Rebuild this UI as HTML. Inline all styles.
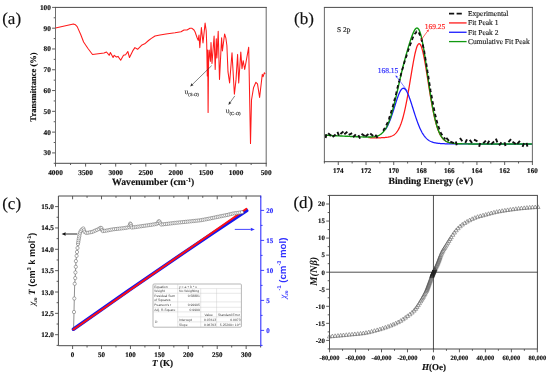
<!DOCTYPE html>
<html><head><meta charset="utf-8"><style>
html,body{margin:0;padding:0;background:#fff;}
body{width:550px;height:376px;overflow:hidden;font-family:"Liberation Serif", serif;}
svg{display:block;filter:blur(0.3px);}
text{text-rendering:geometricPrecision;}
</style></head><body>
<svg width="550" height="376" viewBox="0 0 550 376">
<rect width="550" height="376" fill="#fff"/>
<text x="2.20" y="23.80" font-size="17" text-anchor="start" font-weight="normal" font-style="normal" fill="#111" font-family="'Liberation Serif', serif" stroke="#111" stroke-width="0.16" >(a)</text>
<line x1="53.70" y1="163.30" x2="55.50" y2="163.30" stroke="#4a4a4a" stroke-width="0.9"/>
<line x1="52.10" y1="152.91" x2="55.50" y2="152.91" stroke="#4a4a4a" stroke-width="0.9"/>
<text x="50.90" y="155.41" font-size="7.3" text-anchor="end" font-weight="bold" font-style="normal" fill="#111" font-family="'Liberation Serif', serif" stroke="#111" stroke-width="0.16" >30</text>
<line x1="53.70" y1="142.51" x2="55.50" y2="142.51" stroke="#4a4a4a" stroke-width="0.9"/>
<line x1="52.10" y1="132.12" x2="55.50" y2="132.12" stroke="#4a4a4a" stroke-width="0.9"/>
<text x="50.90" y="134.62" font-size="7.3" text-anchor="end" font-weight="bold" font-style="normal" fill="#111" font-family="'Liberation Serif', serif" stroke="#111" stroke-width="0.16" >40</text>
<line x1="53.70" y1="121.73" x2="55.50" y2="121.73" stroke="#4a4a4a" stroke-width="0.9"/>
<line x1="52.10" y1="111.33" x2="55.50" y2="111.33" stroke="#4a4a4a" stroke-width="0.9"/>
<text x="50.90" y="113.83" font-size="7.3" text-anchor="end" font-weight="bold" font-style="normal" fill="#111" font-family="'Liberation Serif', serif" stroke="#111" stroke-width="0.16" >50</text>
<line x1="53.70" y1="100.94" x2="55.50" y2="100.94" stroke="#4a4a4a" stroke-width="0.9"/>
<line x1="52.10" y1="90.55" x2="55.50" y2="90.55" stroke="#4a4a4a" stroke-width="0.9"/>
<text x="50.90" y="93.05" font-size="7.3" text-anchor="end" font-weight="bold" font-style="normal" fill="#111" font-family="'Liberation Serif', serif" stroke="#111" stroke-width="0.16" >60</text>
<line x1="53.70" y1="80.15" x2="55.50" y2="80.15" stroke="#4a4a4a" stroke-width="0.9"/>
<line x1="52.10" y1="69.76" x2="55.50" y2="69.76" stroke="#4a4a4a" stroke-width="0.9"/>
<text x="50.90" y="72.26" font-size="7.3" text-anchor="end" font-weight="bold" font-style="normal" fill="#111" font-family="'Liberation Serif', serif" stroke="#111" stroke-width="0.16" >70</text>
<line x1="53.70" y1="59.37" x2="55.50" y2="59.37" stroke="#4a4a4a" stroke-width="0.9"/>
<line x1="52.10" y1="48.97" x2="55.50" y2="48.97" stroke="#4a4a4a" stroke-width="0.9"/>
<text x="50.90" y="51.47" font-size="7.3" text-anchor="end" font-weight="bold" font-style="normal" fill="#111" font-family="'Liberation Serif', serif" stroke="#111" stroke-width="0.16" >80</text>
<line x1="53.70" y1="38.58" x2="55.50" y2="38.58" stroke="#4a4a4a" stroke-width="0.9"/>
<line x1="52.10" y1="28.19" x2="55.50" y2="28.19" stroke="#4a4a4a" stroke-width="0.9"/>
<text x="50.90" y="30.69" font-size="7.3" text-anchor="end" font-weight="bold" font-style="normal" fill="#111" font-family="'Liberation Serif', serif" stroke="#111" stroke-width="0.16" >90</text>
<line x1="53.70" y1="17.79" x2="55.50" y2="17.79" stroke="#4a4a4a" stroke-width="0.9"/>
<line x1="52.10" y1="7.40" x2="55.50" y2="7.40" stroke="#4a4a4a" stroke-width="0.9"/>
<text x="50.90" y="9.90" font-size="7.3" text-anchor="end" font-weight="bold" font-style="normal" fill="#111" font-family="'Liberation Serif', serif" stroke="#111" stroke-width="0.16" >100</text>
<line x1="266.20" y1="163.30" x2="266.20" y2="166.60" stroke="#4a4a4a" stroke-width="0.9"/>
<text x="266.20" y="175.00" font-size="7.3" text-anchor="middle" font-weight="bold" font-style="normal" fill="#111" font-family="'Liberation Serif', serif" stroke="#111" stroke-width="0.16" >500</text>
<line x1="251.15" y1="163.30" x2="251.15" y2="165.00" stroke="#4a4a4a" stroke-width="0.9"/>
<line x1="236.10" y1="163.30" x2="236.10" y2="166.60" stroke="#4a4a4a" stroke-width="0.9"/>
<text x="236.10" y="175.00" font-size="7.3" text-anchor="middle" font-weight="bold" font-style="normal" fill="#111" font-family="'Liberation Serif', serif" stroke="#111" stroke-width="0.16" >1000</text>
<line x1="221.05" y1="163.30" x2="221.05" y2="165.00" stroke="#4a4a4a" stroke-width="0.9"/>
<line x1="206.00" y1="163.30" x2="206.00" y2="166.60" stroke="#4a4a4a" stroke-width="0.9"/>
<text x="206.00" y="175.00" font-size="7.3" text-anchor="middle" font-weight="bold" font-style="normal" fill="#111" font-family="'Liberation Serif', serif" stroke="#111" stroke-width="0.16" >1500</text>
<line x1="190.95" y1="163.30" x2="190.95" y2="165.00" stroke="#4a4a4a" stroke-width="0.9"/>
<line x1="175.90" y1="163.30" x2="175.90" y2="166.60" stroke="#4a4a4a" stroke-width="0.9"/>
<text x="175.90" y="175.00" font-size="7.3" text-anchor="middle" font-weight="bold" font-style="normal" fill="#111" font-family="'Liberation Serif', serif" stroke="#111" stroke-width="0.16" >2000</text>
<line x1="160.85" y1="163.30" x2="160.85" y2="165.00" stroke="#4a4a4a" stroke-width="0.9"/>
<line x1="145.80" y1="163.30" x2="145.80" y2="166.60" stroke="#4a4a4a" stroke-width="0.9"/>
<text x="145.80" y="175.00" font-size="7.3" text-anchor="middle" font-weight="bold" font-style="normal" fill="#111" font-family="'Liberation Serif', serif" stroke="#111" stroke-width="0.16" >2500</text>
<line x1="130.75" y1="163.30" x2="130.75" y2="165.00" stroke="#4a4a4a" stroke-width="0.9"/>
<line x1="115.70" y1="163.30" x2="115.70" y2="166.60" stroke="#4a4a4a" stroke-width="0.9"/>
<text x="115.70" y="175.00" font-size="7.3" text-anchor="middle" font-weight="bold" font-style="normal" fill="#111" font-family="'Liberation Serif', serif" stroke="#111" stroke-width="0.16" >3000</text>
<line x1="100.65" y1="163.30" x2="100.65" y2="165.00" stroke="#4a4a4a" stroke-width="0.9"/>
<line x1="85.60" y1="163.30" x2="85.60" y2="166.60" stroke="#4a4a4a" stroke-width="0.9"/>
<text x="85.60" y="175.00" font-size="7.3" text-anchor="middle" font-weight="bold" font-style="normal" fill="#111" font-family="'Liberation Serif', serif" stroke="#111" stroke-width="0.16" >3500</text>
<line x1="70.55" y1="163.30" x2="70.55" y2="165.00" stroke="#4a4a4a" stroke-width="0.9"/>
<line x1="55.50" y1="163.30" x2="55.50" y2="166.60" stroke="#4a4a4a" stroke-width="0.9"/>
<text x="55.50" y="175.00" font-size="7.3" text-anchor="middle" font-weight="bold" font-style="normal" fill="#111" font-family="'Liberation Serif', serif" stroke="#111" stroke-width="0.16" >4000</text>
<line x1="55.50" y1="7.40" x2="55.50" y2="163.80" stroke="#6e6e6e" stroke-width="1.05"/>
<line x1="266.20" y1="6.90" x2="266.20" y2="163.80" stroke="#6e6e6e" stroke-width="1.05"/>
<line x1="55.00" y1="7.40" x2="266.70" y2="7.40" stroke="#4a4a4a" stroke-width="1"/>
<line x1="55.00" y1="163.30" x2="266.70" y2="163.30" stroke="#4a4a4a" stroke-width="1"/>
<text x="153.20" y="185.40" font-size="9.7" text-anchor="middle" font-weight="bold" font-style="normal" fill="#111" font-family="'Liberation Serif', serif" stroke="#111" stroke-width="0.16" >Wavenumber (cm<tspan dy="-3.8" font-size="6.2">-1</tspan><tspan dy="3.8">)</tspan></text>
<text x="0.00" y="0.00" font-size="8.55" text-anchor="middle" font-weight="bold" font-style="normal" fill="#111" font-family="'Liberation Serif', serif" stroke="#111" stroke-width="0.16" transform="translate(35.6,87) rotate(-90)">Transmittance (%)</text>
<path d="M55.50,28.00 L73.40,24.00 L75.50,24.80 L77.20,26.60 L80.60,34.20 L83.60,42.00 L87.80,48.20 L92.50,54.50 L104.00,53.00 L106.50,52.00 L109.30,55.30 L110.40,52.50 L113.10,57.50 L114.20,55.30 L116.40,57.00 L118.00,56.40 L120.70,60.20 L123.50,55.30 L125.60,54.70 L127.80,51.50 L129.50,57.50 L132.70,50.90 L134.90,47.60 L137.60,49.30 L142.00,44.90 L144.70,43.80 L148.50,40.50 L151.00,38.60 L155.00,36.00 L160.00,35.00 L166.00,34.00 L175.00,32.80 L181.00,31.80 L184.00,30.00 L187.00,30.00 L190.00,28.30 L192.00,28.30 L194.00,30.00 L195.00,31.80 L197.10,37.70 L198.20,40.30 L199.00,35.00 L199.80,47.80 L201.40,27.60 L203.00,43.00 L205.10,23.10 L206.20,30.80 L206.70,43.50 L207.30,76.00 L207.70,50.00 L208.10,112.50 L208.60,60.00 L209.20,50.00 L210.40,61.40 L211.00,42.50 L212.00,63.50 L214.10,36.10 L215.20,69.40 L216.30,38.70 L216.90,58.00 L218.20,31.30 L219.50,79.50 L221.60,37.70 L222.40,51.00 L224.60,34.00 L225.90,38.20 L226.90,45.70 L228.00,71.90 L229.60,83.00 L232.00,52.80 L234.40,94.20 L236.00,79.90 L237.60,54.40 L238.70,83.00 L240.80,52.00 L242.00,68.70 L243.20,60.70 L244.70,69.50 L248.70,47.20 L250.50,143.50 L251.50,100.00 L253.50,87.80 L255.90,82.30 L257.50,83.90 L259.60,97.40 L262.30,74.30 L263.10,76.70 L264.40,72.70 L265.20,74.00" fill="none" stroke="#ff1a1a" stroke-width="1.05" stroke-linejoin="round" />
<line x1="211.70" y1="65.60" x2="192.49" y2="84.36" stroke="#333" stroke-width="0.6"/>
<path d="M190.20,86.60 L191.51,83.36 L193.47,85.37 Z" fill="#333"/>
<text x="184.60" y="93.60" font-size="7.6" text-anchor="start" font-weight="normal" font-style="normal" fill="#333" font-family="'Liberation Serif', serif" stroke="#333" stroke-width="0.16" >υ<tspan dy="2.6" font-size="4.6">(S-O)</tspan></text>
<line x1="234.80" y1="95.90" x2="230.25" y2="102.29" stroke="#333" stroke-width="0.6"/>
<path d="M228.40,104.90 L229.11,101.48 L231.40,103.10 Z" fill="#333"/>
<text x="225.80" y="112.70" font-size="7.6" text-anchor="start" font-weight="normal" font-style="normal" fill="#333" font-family="'Liberation Serif', serif" stroke="#333" stroke-width="0.16" >υ<tspan dy="2.6" font-size="4.6">(C-O)</tspan></text>
<text x="294.00" y="24.30" font-size="17" text-anchor="start" font-weight="normal" font-style="normal" fill="#111" font-family="'Liberation Serif', serif" stroke="#111" stroke-width="0.16" >(b)</text>
<line x1="532.40" y1="161.70" x2="532.40" y2="165.00" stroke="#4a4a4a" stroke-width="0.9"/>
<text x="532.40" y="173.00" font-size="7.1" text-anchor="middle" font-weight="bold" font-style="normal" fill="#111" font-family="'Liberation Serif', serif" stroke="#111" stroke-width="0.16" >160</text>
<line x1="518.53" y1="161.70" x2="518.53" y2="163.50" stroke="#4a4a4a" stroke-width="0.9"/>
<line x1="504.67" y1="161.70" x2="504.67" y2="165.00" stroke="#4a4a4a" stroke-width="0.9"/>
<text x="504.67" y="173.00" font-size="7.1" text-anchor="middle" font-weight="bold" font-style="normal" fill="#111" font-family="'Liberation Serif', serif" stroke="#111" stroke-width="0.16" >162</text>
<line x1="490.80" y1="161.70" x2="490.80" y2="163.50" stroke="#4a4a4a" stroke-width="0.9"/>
<line x1="476.93" y1="161.70" x2="476.93" y2="165.00" stroke="#4a4a4a" stroke-width="0.9"/>
<text x="476.93" y="173.00" font-size="7.1" text-anchor="middle" font-weight="bold" font-style="normal" fill="#111" font-family="'Liberation Serif', serif" stroke="#111" stroke-width="0.16" >164</text>
<line x1="463.07" y1="161.70" x2="463.07" y2="163.50" stroke="#4a4a4a" stroke-width="0.9"/>
<line x1="449.20" y1="161.70" x2="449.20" y2="165.00" stroke="#4a4a4a" stroke-width="0.9"/>
<text x="449.20" y="173.00" font-size="7.1" text-anchor="middle" font-weight="bold" font-style="normal" fill="#111" font-family="'Liberation Serif', serif" stroke="#111" stroke-width="0.16" >166</text>
<line x1="435.33" y1="161.70" x2="435.33" y2="163.50" stroke="#4a4a4a" stroke-width="0.9"/>
<line x1="421.47" y1="161.70" x2="421.47" y2="165.00" stroke="#4a4a4a" stroke-width="0.9"/>
<text x="421.47" y="173.00" font-size="7.1" text-anchor="middle" font-weight="bold" font-style="normal" fill="#111" font-family="'Liberation Serif', serif" stroke="#111" stroke-width="0.16" >168</text>
<line x1="407.60" y1="161.70" x2="407.60" y2="163.50" stroke="#4a4a4a" stroke-width="0.9"/>
<line x1="393.73" y1="161.70" x2="393.73" y2="165.00" stroke="#4a4a4a" stroke-width="0.9"/>
<text x="393.73" y="173.00" font-size="7.1" text-anchor="middle" font-weight="bold" font-style="normal" fill="#111" font-family="'Liberation Serif', serif" stroke="#111" stroke-width="0.16" >170</text>
<line x1="379.87" y1="161.70" x2="379.87" y2="163.50" stroke="#4a4a4a" stroke-width="0.9"/>
<line x1="366.00" y1="161.70" x2="366.00" y2="165.00" stroke="#4a4a4a" stroke-width="0.9"/>
<text x="366.00" y="173.00" font-size="7.1" text-anchor="middle" font-weight="bold" font-style="normal" fill="#111" font-family="'Liberation Serif', serif" stroke="#111" stroke-width="0.16" >172</text>
<line x1="352.13" y1="161.70" x2="352.13" y2="163.50" stroke="#4a4a4a" stroke-width="0.9"/>
<line x1="338.27" y1="161.70" x2="338.27" y2="165.00" stroke="#4a4a4a" stroke-width="0.9"/>
<text x="338.27" y="173.00" font-size="7.1" text-anchor="middle" font-weight="bold" font-style="normal" fill="#111" font-family="'Liberation Serif', serif" stroke="#111" stroke-width="0.16" >174</text>
<line x1="324.40" y1="161.70" x2="324.40" y2="163.50" stroke="#4a4a4a" stroke-width="0.9"/>
<text x="430.90" y="183.60" font-size="9.6" text-anchor="middle" font-weight="bold" font-style="normal" fill="#111" font-family="'Liberation Serif', serif" stroke="#111" stroke-width="0.16" >Binding Energy (eV)</text>
<text x="337.00" y="31.50" font-size="7.4" text-anchor="start" font-weight="normal" font-style="normal" fill="#222" font-family="'Liberation Serif', serif" stroke="#222" stroke-width="0.16" >S 2p</text>
<path d="M368.40,137.69 L368.90,137.71 L369.40,137.73 L369.90,137.75 L370.40,137.77 L370.90,137.79 L371.40,137.81 L371.90,137.83 L372.40,137.85 L372.90,137.87 L373.40,137.89 L373.90,137.91 L374.40,137.91 L374.90,137.90 L375.40,137.90 L375.90,137.89 L376.40,137.88 L376.90,137.87 L377.40,137.86 L377.90,137.85 L378.40,137.84 L378.90,137.82 L379.40,137.81 L379.90,137.80 L380.40,137.78 L380.90,137.76 L381.40,137.74 L381.90,137.72 L382.40,137.70 L382.90,137.67 L383.40,137.64 L383.90,137.61 L384.40,137.58 L384.90,137.54 L385.40,137.49 L385.90,137.44 L386.40,137.39 L386.90,137.32 L387.40,137.25 L387.90,137.18 L388.40,137.09 L388.90,136.98 L389.40,136.87 L389.90,136.74 L390.40,136.60 L390.90,136.43 L391.40,136.25 L391.90,136.04 L392.40,135.80 L392.90,135.53 L393.40,135.24 L393.90,134.90 L394.40,134.53 L394.90,134.11 L395.40,133.65 L395.90,133.13 L396.40,132.55 L396.90,131.92 L397.40,131.21 L397.90,130.44 L398.40,129.59 L398.90,128.66 L399.40,127.64 L399.90,126.53 L400.40,125.33 L400.90,124.03 L401.40,122.62 L401.90,121.11 L402.40,119.49 L402.90,117.75 L403.40,115.90 L403.90,113.94 L404.40,111.86 L404.90,109.66 L405.40,107.35 L405.90,104.93 L406.40,102.40 L406.90,99.78 L407.40,97.07 L407.90,94.27 L408.40,91.40 L408.90,88.47 L409.40,85.49 L409.90,82.47 L410.40,79.43 L410.90,76.39 L411.40,73.35 L411.90,70.35 L412.40,67.40 L412.90,64.53 L413.40,61.74 L413.90,59.08 L414.40,56.55 L414.90,54.19 L415.40,52.01 L415.90,50.04 L416.40,48.31 L416.90,46.82 L417.40,45.61 L417.90,44.68 L418.40,44.05 L418.90,43.73 L419.40,43.72 L419.90,44.04 L420.40,44.67 L420.90,45.60 L421.40,46.83 L421.90,48.33 L422.40,50.10 L422.90,52.10 L423.40,54.33 L423.90,56.76 L424.40,59.36 L424.90,62.11 L425.40,64.98 L425.90,67.97 L426.40,71.03 L426.90,74.15 L427.40,77.31 L427.90,80.50 L428.40,83.68 L428.90,86.84 L429.40,89.98 L429.90,93.06 L430.40,96.09 L430.90,99.05 L431.40,101.92 L431.90,104.70 L432.40,107.39 L432.90,109.97 L433.40,112.44 L433.90,114.80 L434.40,117.04 L434.90,119.16 L435.40,121.16 L435.90,123.05 L436.40,124.82 L436.90,126.47 L437.40,128.01 L437.90,129.44 L438.40,130.77 L438.90,132.00 L439.40,133.13 L439.90,134.16 L440.40,135.11 L440.90,135.98 L441.40,136.77 L441.90,137.49 L442.40,138.15 L442.90,138.74 L443.40,139.27 L443.90,139.75 L444.40,140.18 L444.90,140.57 L445.40,140.92 L445.90,141.23 L446.40,141.51 L446.90,141.76 L447.40,141.98 L447.90,142.18 L448.40,142.36 L448.90,142.51 L449.40,142.65 L449.90,142.78 L450.40,142.89 L450.90,142.99 L451.40,143.08 L451.90,143.16" fill="none" stroke="#ff1a1a" stroke-width="1.25" stroke-linejoin="round" />
<path d="M385.40,129.64 L385.90,128.87 L386.40,128.03 L386.90,127.14 L387.40,126.19 L387.90,125.18 L388.40,124.12 L388.90,122.99 L389.40,121.80 L389.90,120.56 L390.40,119.26 L390.90,117.91 L391.40,116.51 L391.90,115.07 L392.40,113.59 L392.90,112.07 L393.40,110.52 L393.90,108.96 L394.40,107.37 L394.90,105.79 L395.40,104.20 L395.90,102.63 L396.40,101.08 L396.90,99.57 L397.40,98.10 L397.90,96.69 L398.40,95.35 L398.90,94.08 L399.40,92.92 L399.90,91.85 L400.40,90.91 L400.90,90.09 L401.40,89.41 L401.90,88.88 L402.40,88.50 L402.90,88.28 L403.40,88.23 L403.90,88.33 L404.40,88.58 L404.90,88.96 L405.40,89.47 L405.90,90.12 L406.40,90.89 L406.90,91.78 L407.40,92.77 L407.90,93.87 L408.40,95.06 L408.90,96.32 L409.40,97.66 L409.90,99.07 L410.40,100.52 L410.90,102.02 L411.40,103.55 L411.90,105.11 L412.40,106.69 L412.90,108.27 L413.40,109.86 L413.90,111.44 L414.40,113.02 L414.90,114.57 L415.40,116.10 L415.90,117.60 L416.40,119.07 L416.90,120.50 L417.40,121.89 L417.90,123.23 L418.40,124.53 L418.90,125.78 L419.40,126.98 L419.90,128.13 L420.40,129.22 L420.90,130.26 L421.40,131.25 L421.90,132.19 L422.40,133.07 L422.90,133.90 L423.40,134.68 L423.90,135.42 L424.40,136.10 L424.90,136.74 L425.40,137.33 L425.90,137.89 L426.40,138.40 L426.90,138.87 L427.40,139.31 L427.90,139.71 L428.40,140.08 L428.90,140.42 L429.40,140.73 L429.90,141.02 L430.40,141.28 L430.90,141.52 L431.40,141.74 L431.90,141.93 L432.40,142.11 L432.90,142.28 L433.40,142.43 L433.90,142.56 L434.40,142.69 L434.90,142.80 L435.40,142.90 L435.90,142.99 L436.40,143.07 L436.90,143.15 L437.40,143.22 L437.90,143.28 L438.40,143.34 L438.90,143.39 L439.40,143.44 L439.90,143.48 L440.40,143.52 L440.90,143.56 L441.40,143.59 L441.90,143.62 L442.40,143.65 L442.90,143.67 L443.40,143.70 L443.90,143.72 L444.40,143.74 L444.90,143.76 L445.40,143.77 L445.90,143.79 L446.40,143.80 L446.90,143.82 L447.40,143.83 L447.90,143.84 L448.40,143.85 L448.90,143.86 L449.40,143.87 L449.90,143.88 L450.40,143.89 L450.90,143.90 L451.40,143.90 L451.90,143.91 L452.40,143.92 L452.90,143.92 L453.40,143.93 L453.90,143.93 L454.40,143.94 L454.90,143.94 L455.40,143.95 L455.90,143.95 L456.40,143.95 L456.90,143.96 L457.40,143.96 L457.90,143.96 L458.40,143.96 L458.90,143.97 L459.40,143.97 L459.90,143.97 L460.40,143.97 L460.90,143.98 L461.40,143.98 L461.90,143.98 L462.40,143.98 L462.90,143.98 L463.40,143.98 L463.90,143.98 L464.40,143.99 L464.90,143.99 L465.40,143.99 L465.90,143.99 L466.40,143.99 L466.90,143.99 L467.40,143.99 L467.90,143.99 L468.40,143.99 L468.90,143.99 L469.40,143.99 L469.90,143.99 L470.40,143.99 L470.90,143.99 L471.40,143.99 L471.90,144.00 L472.40,144.00 L472.90,144.00 L473.40,144.00 L473.90,144.00 L474.40,144.00 L474.90,144.00 L475.40,144.00 L475.90,144.00 L476.40,144.00 L476.90,144.00 L477.40,144.00 L477.90,144.00 L478.40,144.00 L478.90,144.00 L479.40,144.00 L479.90,144.00 L480.40,144.00 L480.90,144.00 L481.40,144.00 L481.90,144.00 L482.40,144.00 L482.90,144.00 L483.40,144.00 L483.90,144.00 L484.40,144.00 L484.90,144.00 L485.40,144.00 L485.90,144.00 L486.40,144.00 L486.90,144.00 L487.40,144.00 L487.90,144.00 L488.40,144.00 L488.90,144.00 L489.40,144.00 L489.90,144.00 L490.40,144.00 L490.90,144.00 L491.40,144.00 L491.90,144.00 L492.40,144.00 L492.90,144.00 L493.40,144.00 L493.90,144.00 L494.40,144.00 L494.90,144.00 L495.40,144.00 L495.90,144.00 L496.40,144.00 L496.90,144.00 L497.40,144.00 L497.90,144.00 L498.40,144.00 L498.90,144.00 L499.40,144.00 L499.90,144.00 L500.40,144.00 L500.90,144.00 L501.40,144.00 L501.90,144.00 L502.40,144.00 L502.90,144.00 L503.40,144.00 L503.90,144.00 L504.40,144.00 L504.90,144.00 L505.40,144.00 L505.90,144.00 L506.40,144.00 L506.90,144.00 L507.40,144.00 L507.90,144.00 L508.40,144.00 L508.90,144.00 L509.40,144.00 L509.90,144.00 L510.40,144.00 L510.90,144.00 L511.40,144.00 L511.90,144.00 L512.40,144.00 L512.90,144.00 L513.40,144.00 L513.90,144.00 L514.40,144.00 L514.90,144.00 L515.40,144.00 L515.90,144.00 L516.40,144.00 L516.90,144.00 L517.40,144.00 L517.90,144.00 L518.40,144.00 L518.90,144.00 L519.40,144.00 L519.90,144.00 L520.40,144.00 L520.90,144.00 L521.40,144.00 L521.90,144.00 L522.40,144.00 L522.90,144.00 L523.40,144.00 L523.90,144.00 L524.40,144.00 L524.90,144.00 L525.40,144.00 L525.90,144.00 L526.40,144.00 L526.90,144.00 L527.40,144.00 L527.90,144.00 L528.40,144.00 L528.90,144.00 L529.40,144.00 L529.90,144.00 L530.40,144.00 L530.90,144.00 L531.40,144.00 L531.90,144.00 L532.40,144.00" fill="none" stroke="#1a1aff" stroke-width="1.25" stroke-linejoin="round" />
<path d="M324.40,135.20 L324.90,135.22 L325.40,135.25 L325.90,135.27 L326.40,135.30 L326.90,135.32 L327.40,135.34 L327.90,135.37 L328.40,135.39 L328.90,135.42 L329.40,135.44 L329.90,135.47 L330.40,135.49 L330.90,135.51 L331.40,135.54 L331.90,135.56 L332.40,135.59 L332.90,135.61 L333.40,135.63 L333.90,135.66 L334.40,135.68 L334.90,135.71 L335.40,135.73 L335.90,135.75 L336.40,135.78 L336.90,135.80 L337.40,135.83 L337.90,135.85 L338.40,135.87 L338.90,135.90 L339.40,135.92 L339.90,135.95 L340.40,135.97 L340.90,135.99 L341.40,136.02 L341.90,136.04 L342.40,136.06 L342.90,136.09 L343.40,136.11 L343.90,136.14 L344.40,136.16 L344.90,136.18 L345.40,136.21 L345.90,136.23 L346.40,136.25 L346.90,136.28 L347.40,136.30 L347.90,136.32 L348.40,136.35 L348.90,136.37 L349.40,136.39 L349.90,136.41 L350.40,136.44 L350.90,136.46 L351.40,136.48 L351.90,136.50 L352.40,136.53 L352.90,136.55 L353.40,136.57 L353.90,136.59 L354.40,136.61 L354.90,136.63 L355.40,136.66 L355.90,136.68 L356.40,136.70 L356.90,136.72 L357.40,136.74 L357.90,136.76 L358.40,136.78 L358.90,136.80 L359.40,136.81 L359.90,136.83 L360.40,136.85 L360.90,136.87 L361.40,136.89 L361.90,136.90 L362.40,136.92 L362.90,136.93 L363.40,136.95 L363.90,136.96 L364.40,136.97 L364.90,136.98 L365.40,136.99 L365.90,137.00 L366.40,137.01 L366.90,137.02 L367.40,137.02 L367.90,137.03 L368.40,137.03 L368.90,137.02 L369.40,137.02 L369.90,137.01 L370.40,137.00 L370.90,136.98 L371.40,136.97 L371.90,136.94 L372.40,136.91 L372.90,136.87 L373.40,136.83 L373.90,136.78 L374.40,136.70 L374.90,136.60 L375.40,136.50 L375.90,136.38 L376.40,136.24 L376.90,136.10 L377.40,135.93 L377.90,135.74 L378.40,135.53 L378.90,135.30 L379.40,135.05 L379.90,134.76 L380.40,134.45 L380.90,134.10 L381.40,133.71 L381.90,133.29 L382.40,132.83 L382.90,132.32 L383.40,131.76 L383.90,131.16 L384.40,130.50 L384.90,129.78 L385.40,129.01 L385.90,128.18 L386.40,127.28 L386.90,126.32 L387.40,125.29 L387.90,124.19 L388.40,123.02 L388.90,121.78 L389.40,120.47 L389.90,119.08 L390.40,117.62 L390.90,116.10 L391.40,114.49 L391.90,112.82 L392.40,111.09 L392.90,109.28 L393.40,107.42 L393.90,105.50 L394.40,103.52 L394.90,101.49 L395.40,99.41 L395.90,97.29 L396.40,95.14 L396.90,92.96 L397.40,90.76 L397.90,88.54 L398.40,86.31 L398.90,84.07 L399.40,81.85 L399.90,79.63 L400.40,77.44 L400.90,75.27 L401.40,73.14 L401.90,71.04 L402.40,68.99 L402.90,66.99 L403.40,65.03 L403.90,63.12 L404.40,61.23 L404.90,59.37 L405.40,57.54 L405.90,55.73 L406.40,53.94 L406.90,52.18 L407.40,50.44 L407.90,48.73 L408.40,47.04 L408.90,45.38 L409.40,43.75 L409.90,42.15 L410.40,40.59 L410.90,39.08 L411.40,37.62 L411.90,36.23 L412.40,34.90 L412.90,33.65 L413.40,32.49 L413.90,31.44 L414.40,30.50 L414.90,29.69 L415.40,29.02 L415.90,28.52 L416.40,28.19 L416.90,28.05 L417.40,28.12 L417.90,28.40 L418.40,28.92 L418.90,29.67 L419.40,30.68 L419.90,31.93 L420.40,33.43 L420.90,35.18 L421.40,37.17 L421.90,39.39 L422.40,41.83 L422.90,44.46 L423.40,47.27 L423.90,50.24 L424.40,53.36 L424.90,56.59 L425.40,59.92 L425.90,63.32 L426.40,66.78 L426.90,70.27 L427.40,73.78 L427.90,77.27 L428.40,80.75 L428.90,84.19 L429.40,87.57 L429.90,90.88 L430.40,94.12 L430.90,97.27 L431.40,100.31 L431.90,103.25 L432.40,106.08 L432.90,108.79 L433.40,111.38 L433.90,113.84 L434.40,116.17 L434.90,118.38 L435.40,120.46 L435.90,122.41 L436.40,124.24 L436.90,125.95 L437.40,127.54 L437.90,129.01 L438.40,130.38 L438.90,131.64 L439.40,132.80 L439.90,133.87 L440.40,134.84 L440.90,135.73 L441.40,136.55 L441.90,137.29 L442.40,137.95 L442.90,138.56 L443.40,139.11 L443.90,139.60 L444.40,140.05 L444.90,140.44 L445.40,140.80 L445.90,141.12 L446.40,141.41 L446.90,141.67 L447.40,141.89 L447.90,142.10 L448.40,142.28 L448.90,142.45 L449.40,142.59 L449.90,142.72 L450.40,142.84 L450.90,142.94 L451.40,143.03 L451.90,143.12 L452.40,143.19 L452.90,143.26 L453.40,143.32 L453.90,143.37 L454.40,143.42 L454.90,143.47 L455.40,143.51 L455.90,143.55 L456.40,143.58 L456.90,143.61 L457.40,143.64 L457.90,143.66 L458.40,143.69 L458.90,143.71 L459.40,143.73 L459.90,143.75 L460.40,143.77 L460.90,143.78 L461.40,143.80 L461.90,143.81 L462.40,143.83 L462.90,143.84 L463.40,143.85 L463.90,143.86 L464.40,143.87 L464.90,143.88 L465.40,143.89 L465.90,143.90 L466.40,143.90 L466.90,143.91 L467.40,143.92 L467.90,143.92 L468.40,143.93 L468.90,143.93 L469.40,143.94 L469.90,143.94 L470.40,143.95 L470.90,143.95 L471.40,143.95 L471.90,143.96 L472.40,143.96 L472.90,143.96 L473.40,143.97 L473.90,143.97 L474.40,143.97 L474.90,143.97 L475.40,143.98 L475.90,143.98 L476.40,143.98 L476.90,143.98 L477.40,143.98 L477.90,143.98 L478.40,143.98 L478.90,143.99 L479.40,143.99 L479.90,143.99 L480.40,143.99 L480.90,143.99 L481.40,143.99 L481.90,143.99 L482.40,143.99 L482.90,143.99 L483.40,143.99 L483.90,143.99 L484.40,143.99 L484.90,143.99 L485.40,144.00 L485.90,144.00 L486.40,144.00 L486.90,144.00 L487.40,144.00 L487.90,144.00 L488.40,144.00 L488.90,144.00 L489.40,144.00 L489.90,144.00 L490.40,144.00 L490.90,144.00 L491.40,144.00 L491.90,144.00 L492.40,144.00 L492.90,144.00 L493.40,144.00 L493.90,144.00 L494.40,144.00 L494.90,144.00 L495.40,144.00 L495.90,144.00 L496.40,144.00 L496.90,144.00 L497.40,144.00 L497.90,144.00 L498.40,144.00 L498.90,144.00 L499.40,144.00 L499.90,144.00 L500.40,144.00 L500.90,144.00 L501.40,144.00 L501.90,144.00 L502.40,144.00 L502.90,144.00 L503.40,144.00 L503.90,144.00 L504.40,144.00 L504.90,144.00 L505.40,144.00 L505.90,144.00 L506.40,144.00 L506.90,144.00 L507.40,144.00 L507.90,144.00 L508.40,144.00 L508.90,144.00 L509.40,144.00 L509.90,144.00 L510.40,144.00 L510.90,144.00 L511.40,144.00 L511.90,144.00 L512.40,144.00 L512.90,144.00 L513.40,144.00 L513.90,144.00 L514.40,144.00 L514.90,144.00 L515.40,144.00 L515.90,144.00 L516.40,144.00 L516.90,144.00 L517.40,144.00 L517.90,144.00 L518.40,144.00 L518.90,144.00 L519.40,144.00 L519.90,144.00 L520.40,144.00 L520.90,144.00 L521.40,144.00 L521.90,144.00 L522.40,144.00 L522.90,144.00 L523.40,144.00 L523.90,144.00 L524.40,144.00 L524.90,144.00 L525.40,144.00 L525.90,144.00 L526.40,144.00 L526.90,144.00 L527.40,144.00 L527.90,144.00 L528.40,144.00 L528.90,144.00 L529.40,144.00 L529.90,144.00 L530.40,144.00 L530.90,144.00 L531.40,144.00 L531.90,144.00 L532.40,144.00" fill="none" stroke="#119911" stroke-width="1.4" stroke-linejoin="round" />
<path d="M383.00,130.67 L383.50,130.28 L384.00,129.01 L384.50,128.71 L385.00,127.56 L385.50,126.66 L386.00,126.24 L386.50,124.79 L387.00,123.66 L387.50,122.70 L388.00,121.59 L388.50,120.03 L389.00,118.84 L389.50,117.05 L390.00,115.74 L390.50,114.19 L391.00,112.38 L391.50,110.69 L392.00,108.96 L392.50,107.55 L393.00,105.76 L393.50,103.87 L394.00,102.08 L394.50,99.80 L395.00,98.15 L395.50,96.23 L396.00,94.35 L396.50,91.92 L397.00,89.99 L397.50,87.54 L398.00,85.87 L398.50,83.42 L399.00,81.59 L399.50,80.23 L400.00,77.43 L400.50,76.25 L401.00,74.23 L401.50,72.22 L402.00,70.60 L402.50,68.86 L403.00,67.28 L403.50,65.28 L404.00,63.54 L404.50,61.92 L405.00,60.22 L405.50,58.88 L406.00,57.13 L406.50,56.05 L407.00,53.78 L407.50,52.46 L408.00,50.99 L408.50,49.22 L409.00,48.74 L409.50,46.20 L410.00,45.29 L410.50,43.81 L411.00,42.97 L411.50,40.71 L412.00,40.16 L412.50,38.46 L413.00,37.41 L413.50,36.17 L414.00,35.47 L414.50,34.10 L415.00,33.56 L415.50,32.99 L416.00,32.82 L416.50,31.39 L417.00,32.18 L417.50,32.02 L418.00,31.85 L418.50,32.44 L419.00,32.87 L419.50,34.23 L420.00,34.93 L420.50,36.10 L421.00,37.59 L421.50,39.29 L422.00,41.19 L422.50,43.09 L423.00,46.08 L423.50,47.51 L424.00,49.65 L424.50,53.21 L425.00,56.01 L425.50,59.04 L426.00,61.88 L426.50,64.94 L427.00,68.15 L427.50,71.43 L428.00,74.22 L428.50,77.38 L429.00,81.09 L429.50,83.84 L430.00,86.53 L430.50,90.38 L431.00,92.96 L431.50,95.52 L432.00,98.21 L432.50,101.32 L433.00,103.70 L433.50,106.22 L434.00,108.63 L434.50,111.20 L435.00,113.88 L435.50,115.66 L436.00,117.47 L436.50,119.95 L437.00,121.65 L437.50,123.60 L438.00,125.33 L438.50,126.53 L439.00,127.98 L439.50,129.35 L440.00,130.34 L440.50,131.95 L441.00,133.21 L441.50,133.91 L442.00,134.73 L442.50,135.57 L443.00,136.22 L443.50,136.93 L444.00,137.68 L444.50,138.17 L445.00,138.81 L445.50,139.02" fill="none" stroke="#111" stroke-width="1.8" stroke-linejoin="round" stroke-dasharray="3.6 2.8"/>
<line x1="325.57" y1="138.06" x2="326.43" y2="134.26" stroke="#111" stroke-width="1.9"/>
<line x1="328.09" y1="133.33" x2="331.17" y2="135.73" stroke="#111" stroke-width="1.9"/>
<line x1="332.55" y1="136.96" x2="335.59" y2="134.52" stroke="#111" stroke-width="1.9"/>
<line x1="337.43" y1="131.97" x2="338.94" y2="135.56" stroke="#111" stroke-width="1.9"/>
<line x1="340.41" y1="134.03" x2="343.46" y2="131.60" stroke="#111" stroke-width="1.9"/>
<line x1="344.35" y1="134.29" x2="347.35" y2="131.80" stroke="#111" stroke-width="1.9"/>
<line x1="348.65" y1="134.91" x2="352.15" y2="133.20" stroke="#111" stroke-width="1.9"/>
<line x1="353.10" y1="137.28" x2="355.79" y2="134.46" stroke="#111" stroke-width="1.9"/>
<line x1="358.41" y1="135.16" x2="360.08" y2="138.68" stroke="#111" stroke-width="1.9"/>
<line x1="361.52" y1="133.88" x2="364.78" y2="136.04" stroke="#111" stroke-width="1.9"/>
<line x1="365.40" y1="136.43" x2="368.44" y2="133.98" stroke="#111" stroke-width="1.9"/>
<line x1="370.21" y1="133.53" x2="373.17" y2="136.06" stroke="#111" stroke-width="1.9"/>
<line x1="375.34" y1="134.68" x2="377.56" y2="137.89" stroke="#111" stroke-width="1.9"/>
<line x1="446.33" y1="137.91" x2="448.95" y2="140.80" stroke="#111" stroke-width="1.9"/>
<line x1="450.32" y1="141.57" x2="453.93" y2="143.04" stroke="#111" stroke-width="1.9"/>
<line x1="455.85" y1="141.52" x2="456.76" y2="145.31" stroke="#111" stroke-width="1.9"/>
<line x1="459.98" y1="138.05" x2="462.30" y2="141.19" stroke="#111" stroke-width="1.9"/>
<line x1="465.28" y1="142.92" x2="466.95" y2="139.39" stroke="#111" stroke-width="1.9"/>
<line x1="469.71" y1="139.94" x2="472.07" y2="143.04" stroke="#111" stroke-width="1.9"/>
<line x1="474.00" y1="139.60" x2="477.47" y2="141.38" stroke="#111" stroke-width="1.9"/>
<line x1="479.13" y1="146.68" x2="480.22" y2="142.93" stroke="#111" stroke-width="1.9"/>
<line x1="483.25" y1="143.46" x2="485.82" y2="140.52" stroke="#111" stroke-width="1.9"/>
<line x1="487.32" y1="144.06" x2="489.29" y2="140.70" stroke="#111" stroke-width="1.9"/>
<line x1="491.16" y1="144.11" x2="494.12" y2="141.58" stroke="#111" stroke-width="1.9"/>
<line x1="495.89" y1="138.70" x2="497.30" y2="142.34" stroke="#111" stroke-width="1.9"/>
<line x1="499.08" y1="145.39" x2="501.48" y2="142.31" stroke="#111" stroke-width="1.9"/>
<line x1="504.53" y1="142.22" x2="505.52" y2="146.00" stroke="#111" stroke-width="1.9"/>
<line x1="508.48" y1="142.19" x2="511.02" y2="139.24" stroke="#111" stroke-width="1.9"/>
<line x1="512.55" y1="141.80" x2="515.75" y2="144.03" stroke="#111" stroke-width="1.9"/>
<line x1="517.32" y1="143.76" x2="519.91" y2="140.84" stroke="#111" stroke-width="1.9"/>
<line x1="522.53" y1="146.78" x2="524.08" y2="143.20" stroke="#111" stroke-width="1.9"/>
<line x1="526.58" y1="142.83" x2="527.36" y2="146.65" stroke="#111" stroke-width="1.9"/>
<line x1="449" y1="13.6" x2="461.8" y2="13.6" stroke="#111" stroke-width="1.8" stroke-dasharray="5.2 2.4"/>
<text x="468.00" y="16.10" font-size="7.5" text-anchor="start" font-weight="normal" font-style="normal" fill="#222" font-family="'Liberation Serif', serif" stroke="#222" stroke-width="0.16" >Experimental</text>
<line x1="449.00" y1="22.93" x2="466.60" y2="22.93" stroke="#ff1a1a" stroke-width="1.3"/>
<text x="468.00" y="25.43" font-size="7.5" text-anchor="start" font-weight="normal" font-style="normal" fill="#222" font-family="'Liberation Serif', serif" stroke="#222" stroke-width="0.16" >Fit Peak 1</text>
<line x1="449.00" y1="32.26" x2="466.60" y2="32.26" stroke="#1a1aff" stroke-width="1.3"/>
<text x="468.00" y="34.76" font-size="7.5" text-anchor="start" font-weight="normal" font-style="normal" fill="#222" font-family="'Liberation Serif', serif" stroke="#222" stroke-width="0.16" >Fit Peak 2</text>
<line x1="449.00" y1="41.59" x2="466.60" y2="41.59" stroke="#119911" stroke-width="1.3"/>
<text x="468.00" y="44.09" font-size="7.5" text-anchor="start" font-weight="normal" font-style="normal" fill="#222" font-family="'Liberation Serif', serif" stroke="#222" stroke-width="0.16" >Cumulative Fit Peak</text>
<line x1="324.40" y1="7.40" x2="324.40" y2="162.20" stroke="#6e6e6e" stroke-width="1.05"/>
<line x1="532.40" y1="6.90" x2="532.40" y2="162.20" stroke="#6e6e6e" stroke-width="1.05"/>
<line x1="323.90" y1="7.40" x2="532.90" y2="7.40" stroke="#4a4a4a" stroke-width="1"/>
<line x1="323.90" y1="161.70" x2="532.90" y2="161.70" stroke="#4a4a4a" stroke-width="1"/>
<text x="424.70" y="28.50" font-size="7.5" text-anchor="start" font-weight="normal" font-style="normal" fill="#ff2020" font-family="'Liberation Serif', serif" stroke="#ff2020" stroke-width="0.16" >169.25</text>
<line x1="420.60" y1="40.60" x2="427.46" y2="31.29" stroke="#ff2020" stroke-width="0.7"/>
<path d="M429.00,29.20 L428.34,31.95 L426.57,30.64 Z" fill="#ff2020"/>
<text x="377.70" y="73.40" font-size="7.5" text-anchor="start" font-weight="normal" font-style="normal" fill="#2a2aff" font-family="'Liberation Serif', serif" stroke="#2a2aff" stroke-width="0.16" >168.15</text>
<line x1="407.50" y1="91.10" x2="396.95" y2="77.12" stroke="#2a2aff" stroke-width="0.6"/>
<path d="M395.50,75.20 L397.82,76.45 L396.07,77.78 Z" fill="#2a2aff"/>
<text x="2.20" y="209.20" font-size="17" text-anchor="start" font-weight="normal" font-style="normal" fill="#111" font-family="'Liberation Serif', serif" stroke="#111" stroke-width="0.16" >(c)</text>
<line x1="56.60" y1="345.38" x2="58.40" y2="345.38" stroke="#4a4a4a" stroke-width="0.9"/>
<line x1="55.10" y1="334.70" x2="58.40" y2="334.70" stroke="#4a4a4a" stroke-width="0.9"/>
<text x="53.80" y="337.20" font-size="7.2" text-anchor="end" font-weight="bold" font-style="normal" fill="#111" font-family="'Liberation Serif', serif" stroke="#111" stroke-width="0.16" >12.0</text>
<line x1="56.60" y1="324.02" x2="58.40" y2="324.02" stroke="#4a4a4a" stroke-width="0.9"/>
<line x1="55.10" y1="313.35" x2="58.40" y2="313.35" stroke="#4a4a4a" stroke-width="0.9"/>
<text x="53.80" y="315.85" font-size="7.2" text-anchor="end" font-weight="bold" font-style="normal" fill="#111" font-family="'Liberation Serif', serif" stroke="#111" stroke-width="0.16" >12.5</text>
<line x1="56.60" y1="302.68" x2="58.40" y2="302.68" stroke="#4a4a4a" stroke-width="0.9"/>
<line x1="55.10" y1="292.00" x2="58.40" y2="292.00" stroke="#4a4a4a" stroke-width="0.9"/>
<text x="53.80" y="294.50" font-size="7.2" text-anchor="end" font-weight="bold" font-style="normal" fill="#111" font-family="'Liberation Serif', serif" stroke="#111" stroke-width="0.16" >13.0</text>
<line x1="56.60" y1="281.32" x2="58.40" y2="281.32" stroke="#4a4a4a" stroke-width="0.9"/>
<line x1="55.10" y1="270.65" x2="58.40" y2="270.65" stroke="#4a4a4a" stroke-width="0.9"/>
<text x="53.80" y="273.15" font-size="7.2" text-anchor="end" font-weight="bold" font-style="normal" fill="#111" font-family="'Liberation Serif', serif" stroke="#111" stroke-width="0.16" >13.5</text>
<line x1="56.60" y1="259.98" x2="58.40" y2="259.98" stroke="#4a4a4a" stroke-width="0.9"/>
<line x1="55.10" y1="249.30" x2="58.40" y2="249.30" stroke="#4a4a4a" stroke-width="0.9"/>
<text x="53.80" y="251.80" font-size="7.2" text-anchor="end" font-weight="bold" font-style="normal" fill="#111" font-family="'Liberation Serif', serif" stroke="#111" stroke-width="0.16" >14.0</text>
<line x1="56.60" y1="238.62" x2="58.40" y2="238.62" stroke="#4a4a4a" stroke-width="0.9"/>
<line x1="55.10" y1="227.95" x2="58.40" y2="227.95" stroke="#4a4a4a" stroke-width="0.9"/>
<text x="53.80" y="230.45" font-size="7.2" text-anchor="end" font-weight="bold" font-style="normal" fill="#111" font-family="'Liberation Serif', serif" stroke="#111" stroke-width="0.16" >14.5</text>
<line x1="56.60" y1="217.28" x2="58.40" y2="217.28" stroke="#4a4a4a" stroke-width="0.9"/>
<line x1="55.10" y1="206.60" x2="58.40" y2="206.60" stroke="#4a4a4a" stroke-width="0.9"/>
<text x="53.80" y="209.10" font-size="7.2" text-anchor="end" font-weight="bold" font-style="normal" fill="#111" font-family="'Liberation Serif', serif" stroke="#111" stroke-width="0.16" >15.0</text>
<line x1="72.60" y1="345.70" x2="72.60" y2="349.00" stroke="#4a4a4a" stroke-width="0.9"/>
<line x1="72.60" y1="196.00" x2="72.60" y2="199.30" stroke="#4a4a4a" stroke-width="0.9"/>
<text x="72.60" y="356.60" font-size="7.0" text-anchor="middle" font-weight="bold" font-style="normal" fill="#111" font-family="'Liberation Serif', serif" stroke="#111" stroke-width="0.16" >0</text>
<line x1="87.06" y1="345.70" x2="87.06" y2="347.50" stroke="#4a4a4a" stroke-width="0.9"/>
<line x1="87.06" y1="196.00" x2="87.06" y2="197.80" stroke="#4a4a4a" stroke-width="0.9"/>
<line x1="101.52" y1="345.70" x2="101.52" y2="349.00" stroke="#4a4a4a" stroke-width="0.9"/>
<line x1="101.52" y1="196.00" x2="101.52" y2="199.30" stroke="#4a4a4a" stroke-width="0.9"/>
<text x="101.52" y="356.60" font-size="7.0" text-anchor="middle" font-weight="bold" font-style="normal" fill="#111" font-family="'Liberation Serif', serif" stroke="#111" stroke-width="0.16" >50</text>
<line x1="115.99" y1="345.70" x2="115.99" y2="347.50" stroke="#4a4a4a" stroke-width="0.9"/>
<line x1="115.99" y1="196.00" x2="115.99" y2="197.80" stroke="#4a4a4a" stroke-width="0.9"/>
<line x1="130.45" y1="345.70" x2="130.45" y2="349.00" stroke="#4a4a4a" stroke-width="0.9"/>
<line x1="130.45" y1="196.00" x2="130.45" y2="199.30" stroke="#4a4a4a" stroke-width="0.9"/>
<text x="130.45" y="356.60" font-size="7.0" text-anchor="middle" font-weight="bold" font-style="normal" fill="#111" font-family="'Liberation Serif', serif" stroke="#111" stroke-width="0.16" >100</text>
<line x1="144.91" y1="345.70" x2="144.91" y2="347.50" stroke="#4a4a4a" stroke-width="0.9"/>
<line x1="144.91" y1="196.00" x2="144.91" y2="197.80" stroke="#4a4a4a" stroke-width="0.9"/>
<line x1="159.38" y1="345.70" x2="159.38" y2="349.00" stroke="#4a4a4a" stroke-width="0.9"/>
<line x1="159.38" y1="196.00" x2="159.38" y2="199.30" stroke="#4a4a4a" stroke-width="0.9"/>
<text x="159.38" y="356.60" font-size="7.0" text-anchor="middle" font-weight="bold" font-style="normal" fill="#111" font-family="'Liberation Serif', serif" stroke="#111" stroke-width="0.16" >150</text>
<line x1="173.84" y1="345.70" x2="173.84" y2="347.50" stroke="#4a4a4a" stroke-width="0.9"/>
<line x1="173.84" y1="196.00" x2="173.84" y2="197.80" stroke="#4a4a4a" stroke-width="0.9"/>
<line x1="188.30" y1="345.70" x2="188.30" y2="349.00" stroke="#4a4a4a" stroke-width="0.9"/>
<line x1="188.30" y1="196.00" x2="188.30" y2="199.30" stroke="#4a4a4a" stroke-width="0.9"/>
<text x="188.30" y="356.60" font-size="7.0" text-anchor="middle" font-weight="bold" font-style="normal" fill="#111" font-family="'Liberation Serif', serif" stroke="#111" stroke-width="0.16" >200</text>
<line x1="202.76" y1="345.70" x2="202.76" y2="347.50" stroke="#4a4a4a" stroke-width="0.9"/>
<line x1="202.76" y1="196.00" x2="202.76" y2="197.80" stroke="#4a4a4a" stroke-width="0.9"/>
<line x1="217.22" y1="345.70" x2="217.22" y2="349.00" stroke="#4a4a4a" stroke-width="0.9"/>
<line x1="217.22" y1="196.00" x2="217.22" y2="199.30" stroke="#4a4a4a" stroke-width="0.9"/>
<text x="217.22" y="356.60" font-size="7.0" text-anchor="middle" font-weight="bold" font-style="normal" fill="#111" font-family="'Liberation Serif', serif" stroke="#111" stroke-width="0.16" >250</text>
<line x1="231.69" y1="345.70" x2="231.69" y2="347.50" stroke="#4a4a4a" stroke-width="0.9"/>
<line x1="231.69" y1="196.00" x2="231.69" y2="197.80" stroke="#4a4a4a" stroke-width="0.9"/>
<line x1="246.15" y1="345.70" x2="246.15" y2="349.00" stroke="#4a4a4a" stroke-width="0.9"/>
<line x1="246.15" y1="196.00" x2="246.15" y2="199.30" stroke="#4a4a4a" stroke-width="0.9"/>
<text x="246.15" y="356.60" font-size="7.0" text-anchor="middle" font-weight="bold" font-style="normal" fill="#111" font-family="'Liberation Serif', serif" stroke="#111" stroke-width="0.16" >300</text>
<line x1="260.61" y1="345.70" x2="260.61" y2="347.50" stroke="#4a4a4a" stroke-width="0.9"/>
<line x1="260.61" y1="196.00" x2="260.61" y2="197.80" stroke="#4a4a4a" stroke-width="0.9"/>
<line x1="260.80" y1="345.40" x2="262.60" y2="345.40" stroke="#3030ff" stroke-width="0.9"/>
<line x1="260.80" y1="330.40" x2="264.10" y2="330.40" stroke="#3030ff" stroke-width="0.9"/>
<text x="266.20" y="332.90" font-size="7.0" text-anchor="start" font-weight="bold" font-style="normal" fill="#3030ff" font-family="'Liberation Serif', serif" stroke="#3030ff" stroke-width="0.16" >0</text>
<line x1="260.80" y1="315.40" x2="262.60" y2="315.40" stroke="#3030ff" stroke-width="0.9"/>
<line x1="260.80" y1="300.40" x2="264.10" y2="300.40" stroke="#3030ff" stroke-width="0.9"/>
<text x="266.20" y="302.90" font-size="7.0" text-anchor="start" font-weight="bold" font-style="normal" fill="#3030ff" font-family="'Liberation Serif', serif" stroke="#3030ff" stroke-width="0.16" >5</text>
<line x1="260.80" y1="285.40" x2="262.60" y2="285.40" stroke="#3030ff" stroke-width="0.9"/>
<line x1="260.80" y1="270.40" x2="264.10" y2="270.40" stroke="#3030ff" stroke-width="0.9"/>
<text x="266.20" y="272.90" font-size="7.0" text-anchor="start" font-weight="bold" font-style="normal" fill="#3030ff" font-family="'Liberation Serif', serif" stroke="#3030ff" stroke-width="0.16" >10</text>
<line x1="260.80" y1="255.40" x2="262.60" y2="255.40" stroke="#3030ff" stroke-width="0.9"/>
<line x1="260.80" y1="240.40" x2="264.10" y2="240.40" stroke="#3030ff" stroke-width="0.9"/>
<text x="266.20" y="242.90" font-size="7.0" text-anchor="start" font-weight="bold" font-style="normal" fill="#3030ff" font-family="'Liberation Serif', serif" stroke="#3030ff" stroke-width="0.16" >15</text>
<line x1="260.80" y1="225.40" x2="262.60" y2="225.40" stroke="#3030ff" stroke-width="0.9"/>
<line x1="260.80" y1="210.40" x2="264.10" y2="210.40" stroke="#3030ff" stroke-width="0.9"/>
<text x="266.20" y="212.90" font-size="7.0" text-anchor="start" font-weight="bold" font-style="normal" fill="#3030ff" font-family="'Liberation Serif', serif" stroke="#3030ff" stroke-width="0.16" >20</text>
<line x1="58.40" y1="196.00" x2="260.80" y2="196.00" stroke="#4a4a4a" stroke-width="1"/>
<line x1="58.40" y1="345.70" x2="260.80" y2="345.70" stroke="#4a4a4a" stroke-width="1"/>
<line x1="58.40" y1="196.00" x2="58.40" y2="345.70" stroke="#4a4a4a" stroke-width="1"/>
<line x1="260.80" y1="195.50" x2="260.80" y2="346.20" stroke="#3030ff" stroke-width="1.1"/>
<text x="162.50" y="365.60" font-size="9.2" text-anchor="middle" font-weight="bold" font-style="normal" fill="#111" font-family="'Liberation Serif', serif" stroke="#111" stroke-width="0.16" ><tspan font-style="italic">T</tspan> (K)</text>
<text transform="translate(35.2,269.3) rotate(-90)" text-anchor="middle" font-family="'Liberation Sans', sans-serif" font-weight="bold" font-size="9.2" fill="#111"><tspan font-family="'Liberation Serif', serif" font-style="italic" font-weight="normal" font-size="9.5">χ</tspan><tspan font-family="'Liberation Serif', serif" font-style="italic" font-size="5.5" dy="2">m</tspan><tspan dy="-2" font-family="'Liberation Serif', serif" font-style="italic" font-size="9.5"> T</tspan> (cm<tspan dy="-4.4" font-size="5.5">3</tspan><tspan dy="4.4"> k mol</tspan><tspan dy="-4.4" font-size="5.5">-1</tspan><tspan dy="4.4">)</tspan></text>
<text transform="translate(285.8,268.2) rotate(-90)" text-anchor="middle" font-family="'Liberation Sans', sans-serif" font-weight="bold" font-size="9.7" fill="#3030ff"><tspan font-family="'Liberation Serif', serif" font-style="italic" font-weight="normal" font-size="9.5">χ</tspan><tspan font-family="'Liberation Serif', serif" font-style="italic" font-size="5.5" dy="2">m</tspan><tspan dy="-6.4" font-size="5.5">-1</tspan><tspan dy="4.4"> (cm</tspan><tspan dy="-4.4" font-size="5.5">-3</tspan><tspan dy="4.4"> mol)</tspan></text>
<line x1="77.30" y1="234.00" x2="65.60" y2="234.00" stroke="#111" stroke-width="0.9"/>
<path d="M61.60,234.00 L65.60,232.30 L65.60,235.70 Z" fill="#111"/>
<line x1="234.80" y1="229.40" x2="250.80" y2="229.40" stroke="#3030ff" stroke-width="0.9"/>
<path d="M254.80,229.40 L250.80,231.10 L250.80,227.70 Z" fill="#3030ff"/>
<path d="M73.4,329.2 Q160,267.9 246.7,210.6" fill="none" stroke="#1515ee" stroke-width="3.5" stroke-linecap="round"/>
<line x1="73.4" y1="329.5" x2="246.4" y2="208.8" stroke="#ff1010" stroke-width="2.0" stroke-linecap="round"/>
<path d="M73.60,328.00 L74.00,312.00 L74.30,298.50 L74.70,283.80 L75.20,278.10 L75.40,272.40 L75.80,266.80 L75.90,261.10 L76.60,255.90 L77.00,252.00 L77.50,248.00 L78.00,244.00 L78.60,240.00 L79.30,236.00 L80.00,232.60 L81.30,230.00 L83.30,228.40 L84.40,231.80 L86.60,233.10 L89.00,232.50 L92.00,232.00 L95.20,230.60 L98.00,229.50 L101.20,227.30 L102.30,231.20 L107.00,230.50 L113.20,229.30 L119.80,228.60 L125.00,228.00 L129.20,227.20 L130.40,223.00 L131.60,227.60 L140.00,226.40 L150.00,225.00 L157.50,223.80 L159.00,220.60 L160.90,224.60 L175.00,222.90 L188.00,221.60 L200.40,220.30 L210.00,218.50 L219.50,216.50 L227.00,215.00 L233.50,213.40 L238.50,212.80 L243.00,212.00" fill="none" stroke="#444" stroke-width="0.6" stroke-linejoin="round" />
<circle cx="74.00" cy="312.00" r="1.65" fill="#fff" stroke="#5a5a5a" stroke-width="0.5"/>
<circle cx="74.30" cy="298.50" r="1.65" fill="#fff" stroke="#5a5a5a" stroke-width="0.5"/>
<circle cx="74.70" cy="283.80" r="1.65" fill="#fff" stroke="#5a5a5a" stroke-width="0.5"/>
<circle cx="75.20" cy="278.10" r="1.65" fill="#fff" stroke="#5a5a5a" stroke-width="0.5"/>
<circle cx="75.40" cy="272.40" r="1.65" fill="#fff" stroke="#5a5a5a" stroke-width="0.5"/>
<circle cx="75.80" cy="266.80" r="1.65" fill="#fff" stroke="#5a5a5a" stroke-width="0.5"/>
<circle cx="75.90" cy="261.10" r="1.65" fill="#fff" stroke="#5a5a5a" stroke-width="0.5"/>
<circle cx="76.60" cy="255.90" r="1.65" fill="#fff" stroke="#5a5a5a" stroke-width="0.5"/>
<circle cx="77.00" cy="252.00" r="1.65" fill="#fff" stroke="#5a5a5a" stroke-width="0.5"/>
<circle cx="77.50" cy="248.00" r="1.65" fill="#fff" stroke="#5a5a5a" stroke-width="0.5"/>
<circle cx="78.00" cy="244.00" r="1.65" fill="#fff" stroke="#5a5a5a" stroke-width="0.5"/>
<circle cx="78.28" cy="242.12" r="1.65" fill="#fff" stroke="#5a5a5a" stroke-width="0.5"/>
<circle cx="78.56" cy="240.24" r="1.65" fill="#fff" stroke="#5a5a5a" stroke-width="0.5"/>
<circle cx="78.89" cy="238.37" r="1.65" fill="#fff" stroke="#5a5a5a" stroke-width="0.5"/>
<circle cx="79.21" cy="236.50" r="1.65" fill="#fff" stroke="#5a5a5a" stroke-width="0.5"/>
<circle cx="79.58" cy="234.63" r="1.65" fill="#fff" stroke="#5a5a5a" stroke-width="0.5"/>
<circle cx="79.96" cy="232.77" r="1.65" fill="#fff" stroke="#5a5a5a" stroke-width="0.5"/>
<circle cx="80.77" cy="231.06" r="1.65" fill="#fff" stroke="#5a5a5a" stroke-width="0.5"/>
<circle cx="81.86" cy="229.55" r="1.65" fill="#fff" stroke="#5a5a5a" stroke-width="0.5"/>
<circle cx="83.32" cy="228.45" r="1.65" fill="#fff" stroke="#5a5a5a" stroke-width="0.5"/>
<circle cx="83.90" cy="230.26" r="1.65" fill="#fff" stroke="#5a5a5a" stroke-width="0.5"/>
<circle cx="84.64" cy="231.94" r="1.65" fill="#fff" stroke="#5a5a5a" stroke-width="0.5"/>
<circle cx="86.28" cy="232.91" r="1.65" fill="#fff" stroke="#5a5a5a" stroke-width="0.5"/>
<circle cx="88.08" cy="232.73" r="1.65" fill="#fff" stroke="#5a5a5a" stroke-width="0.5"/>
<circle cx="89.94" cy="232.34" r="1.65" fill="#fff" stroke="#5a5a5a" stroke-width="0.5"/>
<circle cx="91.81" cy="232.03" r="1.65" fill="#fff" stroke="#5a5a5a" stroke-width="0.5"/>
<circle cx="93.57" cy="231.31" r="1.65" fill="#fff" stroke="#5a5a5a" stroke-width="0.5"/>
<circle cx="95.31" cy="230.56" r="1.65" fill="#fff" stroke="#5a5a5a" stroke-width="0.5"/>
<circle cx="97.08" cy="229.86" r="1.65" fill="#fff" stroke="#5a5a5a" stroke-width="0.5"/>
<circle cx="98.75" cy="228.98" r="1.65" fill="#fff" stroke="#5a5a5a" stroke-width="0.5"/>
<circle cx="100.32" cy="227.91" r="1.65" fill="#fff" stroke="#5a5a5a" stroke-width="0.5"/>
<circle cx="101.42" cy="228.10" r="1.65" fill="#fff" stroke="#5a5a5a" stroke-width="0.5"/>
<circle cx="101.94" cy="229.92" r="1.65" fill="#fff" stroke="#5a5a5a" stroke-width="0.5"/>
<circle cx="102.87" cy="231.12" r="1.65" fill="#fff" stroke="#5a5a5a" stroke-width="0.5"/>
<circle cx="104.75" cy="230.84" r="1.65" fill="#fff" stroke="#5a5a5a" stroke-width="0.5"/>
<circle cx="106.63" cy="230.56" r="1.65" fill="#fff" stroke="#5a5a5a" stroke-width="0.5"/>
<circle cx="108.49" cy="230.21" r="1.65" fill="#fff" stroke="#5a5a5a" stroke-width="0.5"/>
<circle cx="110.36" cy="229.85" r="1.65" fill="#fff" stroke="#5a5a5a" stroke-width="0.5"/>
<circle cx="112.23" cy="229.49" r="1.65" fill="#fff" stroke="#5a5a5a" stroke-width="0.5"/>
<circle cx="114.10" cy="229.20" r="1.65" fill="#fff" stroke="#5a5a5a" stroke-width="0.5"/>
<circle cx="115.99" cy="229.00" r="1.65" fill="#fff" stroke="#5a5a5a" stroke-width="0.5"/>
<circle cx="117.88" cy="228.80" r="1.65" fill="#fff" stroke="#5a5a5a" stroke-width="0.5"/>
<circle cx="119.77" cy="228.60" r="1.65" fill="#fff" stroke="#5a5a5a" stroke-width="0.5"/>
<circle cx="121.66" cy="228.39" r="1.65" fill="#fff" stroke="#5a5a5a" stroke-width="0.5"/>
<circle cx="123.55" cy="228.17" r="1.65" fill="#fff" stroke="#5a5a5a" stroke-width="0.5"/>
<circle cx="125.43" cy="227.92" r="1.65" fill="#fff" stroke="#5a5a5a" stroke-width="0.5"/>
<circle cx="127.29" cy="227.56" r="1.65" fill="#fff" stroke="#5a5a5a" stroke-width="0.5"/>
<circle cx="129.16" cy="227.21" r="1.65" fill="#fff" stroke="#5a5a5a" stroke-width="0.5"/>
<circle cx="129.71" cy="225.41" r="1.65" fill="#fff" stroke="#5a5a5a" stroke-width="0.5"/>
<circle cx="130.23" cy="223.58" r="1.65" fill="#fff" stroke="#5a5a5a" stroke-width="0.5"/>
<circle cx="130.73" cy="224.25" r="1.65" fill="#fff" stroke="#5a5a5a" stroke-width="0.5"/>
<circle cx="131.21" cy="226.09" r="1.65" fill="#fff" stroke="#5a5a5a" stroke-width="0.5"/>
<circle cx="131.93" cy="227.55" r="1.65" fill="#fff" stroke="#5a5a5a" stroke-width="0.5"/>
<circle cx="133.82" cy="227.28" r="1.65" fill="#fff" stroke="#5a5a5a" stroke-width="0.5"/>
<circle cx="135.70" cy="227.01" r="1.65" fill="#fff" stroke="#5a5a5a" stroke-width="0.5"/>
<circle cx="137.58" cy="226.75" r="1.65" fill="#fff" stroke="#5a5a5a" stroke-width="0.5"/>
<circle cx="139.46" cy="226.48" r="1.65" fill="#fff" stroke="#5a5a5a" stroke-width="0.5"/>
<circle cx="141.34" cy="226.21" r="1.65" fill="#fff" stroke="#5a5a5a" stroke-width="0.5"/>
<circle cx="143.22" cy="225.95" r="1.65" fill="#fff" stroke="#5a5a5a" stroke-width="0.5"/>
<circle cx="145.10" cy="225.69" r="1.65" fill="#fff" stroke="#5a5a5a" stroke-width="0.5"/>
<circle cx="146.98" cy="225.42" r="1.65" fill="#fff" stroke="#5a5a5a" stroke-width="0.5"/>
<circle cx="148.87" cy="225.16" r="1.65" fill="#fff" stroke="#5a5a5a" stroke-width="0.5"/>
<circle cx="150.75" cy="224.88" r="1.65" fill="#fff" stroke="#5a5a5a" stroke-width="0.5"/>
<circle cx="152.62" cy="224.58" r="1.65" fill="#fff" stroke="#5a5a5a" stroke-width="0.5"/>
<circle cx="154.50" cy="224.28" r="1.65" fill="#fff" stroke="#5a5a5a" stroke-width="0.5"/>
<circle cx="156.37" cy="223.98" r="1.65" fill="#fff" stroke="#5a5a5a" stroke-width="0.5"/>
<circle cx="157.82" cy="223.11" r="1.65" fill="#fff" stroke="#5a5a5a" stroke-width="0.5"/>
<circle cx="158.63" cy="221.39" r="1.65" fill="#fff" stroke="#5a5a5a" stroke-width="0.5"/>
<circle cx="159.44" cy="221.53" r="1.65" fill="#fff" stroke="#5a5a5a" stroke-width="0.5"/>
<circle cx="160.26" cy="223.24" r="1.65" fill="#fff" stroke="#5a5a5a" stroke-width="0.5"/>
<circle cx="161.29" cy="224.55" r="1.65" fill="#fff" stroke="#5a5a5a" stroke-width="0.5"/>
<circle cx="163.18" cy="224.32" r="1.65" fill="#fff" stroke="#5a5a5a" stroke-width="0.5"/>
<circle cx="165.07" cy="224.10" r="1.65" fill="#fff" stroke="#5a5a5a" stroke-width="0.5"/>
<circle cx="166.95" cy="223.87" r="1.65" fill="#fff" stroke="#5a5a5a" stroke-width="0.5"/>
<circle cx="168.84" cy="223.64" r="1.65" fill="#fff" stroke="#5a5a5a" stroke-width="0.5"/>
<circle cx="170.73" cy="223.42" r="1.65" fill="#fff" stroke="#5a5a5a" stroke-width="0.5"/>
<circle cx="172.61" cy="223.19" r="1.65" fill="#fff" stroke="#5a5a5a" stroke-width="0.5"/>
<circle cx="174.50" cy="222.96" r="1.65" fill="#fff" stroke="#5a5a5a" stroke-width="0.5"/>
<circle cx="176.39" cy="222.76" r="1.65" fill="#fff" stroke="#5a5a5a" stroke-width="0.5"/>
<circle cx="178.28" cy="222.57" r="1.65" fill="#fff" stroke="#5a5a5a" stroke-width="0.5"/>
<circle cx="180.17" cy="222.38" r="1.65" fill="#fff" stroke="#5a5a5a" stroke-width="0.5"/>
<circle cx="182.06" cy="222.19" r="1.65" fill="#fff" stroke="#5a5a5a" stroke-width="0.5"/>
<circle cx="183.95" cy="222.00" r="1.65" fill="#fff" stroke="#5a5a5a" stroke-width="0.5"/>
<circle cx="185.84" cy="221.82" r="1.65" fill="#fff" stroke="#5a5a5a" stroke-width="0.5"/>
<circle cx="187.73" cy="221.63" r="1.65" fill="#fff" stroke="#5a5a5a" stroke-width="0.5"/>
<circle cx="189.62" cy="221.43" r="1.65" fill="#fff" stroke="#5a5a5a" stroke-width="0.5"/>
<circle cx="191.51" cy="221.23" r="1.65" fill="#fff" stroke="#5a5a5a" stroke-width="0.5"/>
<circle cx="193.40" cy="221.03" r="1.65" fill="#fff" stroke="#5a5a5a" stroke-width="0.5"/>
<circle cx="195.29" cy="220.84" r="1.65" fill="#fff" stroke="#5a5a5a" stroke-width="0.5"/>
<circle cx="197.18" cy="220.64" r="1.65" fill="#fff" stroke="#5a5a5a" stroke-width="0.5"/>
<circle cx="199.07" cy="220.44" r="1.65" fill="#fff" stroke="#5a5a5a" stroke-width="0.5"/>
<circle cx="200.95" cy="220.20" r="1.65" fill="#fff" stroke="#5a5a5a" stroke-width="0.5"/>
<circle cx="202.82" cy="219.85" r="1.65" fill="#fff" stroke="#5a5a5a" stroke-width="0.5"/>
<circle cx="204.69" cy="219.50" r="1.65" fill="#fff" stroke="#5a5a5a" stroke-width="0.5"/>
<circle cx="206.56" cy="219.15" r="1.65" fill="#fff" stroke="#5a5a5a" stroke-width="0.5"/>
<circle cx="208.42" cy="218.80" r="1.65" fill="#fff" stroke="#5a5a5a" stroke-width="0.5"/>
<circle cx="210.29" cy="218.44" r="1.65" fill="#fff" stroke="#5a5a5a" stroke-width="0.5"/>
<circle cx="212.15" cy="218.05" r="1.65" fill="#fff" stroke="#5a5a5a" stroke-width="0.5"/>
<circle cx="214.01" cy="217.66" r="1.65" fill="#fff" stroke="#5a5a5a" stroke-width="0.5"/>
<circle cx="215.87" cy="217.26" r="1.65" fill="#fff" stroke="#5a5a5a" stroke-width="0.5"/>
<circle cx="217.73" cy="216.87" r="1.65" fill="#fff" stroke="#5a5a5a" stroke-width="0.5"/>
<circle cx="219.59" cy="216.48" r="1.65" fill="#fff" stroke="#5a5a5a" stroke-width="0.5"/>
<circle cx="221.45" cy="216.11" r="1.65" fill="#fff" stroke="#5a5a5a" stroke-width="0.5"/>
<circle cx="223.31" cy="215.74" r="1.65" fill="#fff" stroke="#5a5a5a" stroke-width="0.5"/>
<circle cx="225.17" cy="215.37" r="1.65" fill="#fff" stroke="#5a5a5a" stroke-width="0.5"/>
<circle cx="227.04" cy="214.99" r="1.65" fill="#fff" stroke="#5a5a5a" stroke-width="0.5"/>
<circle cx="228.88" cy="214.54" r="1.65" fill="#fff" stroke="#5a5a5a" stroke-width="0.5"/>
<circle cx="230.73" cy="214.08" r="1.65" fill="#fff" stroke="#5a5a5a" stroke-width="0.5"/>
<circle cx="232.57" cy="213.63" r="1.65" fill="#fff" stroke="#5a5a5a" stroke-width="0.5"/>
<circle cx="234.44" cy="213.29" r="1.65" fill="#fff" stroke="#5a5a5a" stroke-width="0.5"/>
<circle cx="236.32" cy="213.06" r="1.65" fill="#fff" stroke="#5a5a5a" stroke-width="0.5"/>
<circle cx="238.21" cy="212.83" r="1.65" fill="#fff" stroke="#5a5a5a" stroke-width="0.5"/>
<circle cx="240.08" cy="212.52" r="1.65" fill="#fff" stroke="#5a5a5a" stroke-width="0.5"/>
<circle cx="241.95" cy="212.19" r="1.65" fill="#fff" stroke="#5a5a5a" stroke-width="0.5"/>
<rect x="153.0" y="284.0" width="88.40" height="43.20" rx="1" fill="#fff" stroke="#9a9a9a" stroke-width="0.7"/>
<line x1="153.00" y1="288.60" x2="241.40" y2="288.60" stroke="#c4c4c4" stroke-width="0.4"/>
<line x1="153.00" y1="293.30" x2="241.40" y2="293.30" stroke="#c4c4c4" stroke-width="0.4"/>
<line x1="153.00" y1="301.90" x2="241.40" y2="301.90" stroke="#c4c4c4" stroke-width="0.4"/>
<line x1="153.00" y1="307.30" x2="241.40" y2="307.30" stroke="#c4c4c4" stroke-width="0.4"/>
<line x1="153.00" y1="311.90" x2="241.40" y2="311.90" stroke="#c4c4c4" stroke-width="0.4"/>
<line x1="177.70" y1="316.90" x2="241.40" y2="316.90" stroke="#c4c4c4" stroke-width="0.4"/>
<line x1="177.70" y1="321.90" x2="241.40" y2="321.90" stroke="#c4c4c4" stroke-width="0.4"/>
<line x1="177.70" y1="284.00" x2="177.70" y2="327.20" stroke="#c4c4c4" stroke-width="0.4"/>
<line x1="200.70" y1="288.60" x2="200.70" y2="327.20" stroke="#c4c4c4" stroke-width="0.4"/>
<line x1="216.60" y1="288.60" x2="216.60" y2="327.20" stroke="#c4c4c4" stroke-width="0.4"/>
<text x="154.30" y="287.60" font-size="3.35" text-anchor="start" fill="#444" font-family="'Liberation Sans', sans-serif">Equation</text>
<text x="179.00" y="287.60" font-size="3.35" text-anchor="start" fill="#444" font-family="'Liberation Sans', sans-serif">y = a + b * x</text>
<text x="154.30" y="292.30" font-size="3.35" text-anchor="start" fill="#444" font-family="'Liberation Sans', sans-serif">Weight</text>
<text x="179.00" y="292.30" font-size="3.35" text-anchor="start" fill="#444" font-family="'Liberation Sans', sans-serif">No Weighting</text>
<text x="154.30" y="297.00" font-size="3.35" text-anchor="start" fill="#444" font-family="'Liberation Sans', sans-serif">Residual Sum</text>
<text x="154.30" y="300.60" font-size="3.35" text-anchor="start" fill="#444" font-family="'Liberation Sans', sans-serif">of Squares</text>
<text x="199.80" y="297.00" font-size="3.35" text-anchor="end" fill="#444" font-family="'Liberation Sans', sans-serif">0.58881</text>
<text x="154.30" y="306.00" font-size="3.35" text-anchor="start" fill="#444" font-family="'Liberation Sans', sans-serif">Pearson's r</text>
<text x="199.80" y="306.00" font-size="3.35" text-anchor="end" fill="#444" font-family="'Liberation Sans', sans-serif">0.99995</text>
<text x="154.30" y="310.80" font-size="3.35" text-anchor="start" fill="#444" font-family="'Liberation Sans', sans-serif">Adj. R-Square</text>
<text x="199.80" y="310.80" font-size="3.35" text-anchor="end" fill="#444" font-family="'Liberation Sans', sans-serif">0.9999</text>
<text x="208.60" y="315.60" font-size="3.35" text-anchor="middle" fill="#444" font-family="'Liberation Sans', sans-serif">Value</text>
<text x="229.00" y="315.60" font-size="3.35" text-anchor="middle" fill="#444" font-family="'Liberation Sans', sans-serif">Standard Error</text>
<text x="155.00" y="323.20" font-size="3.35" text-anchor="start" fill="#444" font-family="'Liberation Sans', sans-serif">D</text>
<text x="179.00" y="320.60" font-size="3.35" text-anchor="start" fill="#444" font-family="'Liberation Sans', sans-serif">Intercept</text>
<text x="216.00" y="320.60" font-size="3.35" text-anchor="end" fill="#444" font-family="'Liberation Sans', sans-serif">0.07613</text>
<text x="240.50" y="320.60" font-size="3.35" text-anchor="end" fill="#444" font-family="'Liberation Sans', sans-serif">0.0073</text>
<text x="179.00" y="325.60" font-size="3.35" text-anchor="start" fill="#444" font-family="'Liberation Sans', sans-serif">Slope</text>
<text x="216.00" y="325.60" font-size="3.35" text-anchor="end" fill="#444" font-family="'Liberation Sans', sans-serif">0.06763</text>
<text x="240.50" y="325.60" font-size="3.35" text-anchor="end" fill="#444" font-family="'Liberation Sans', sans-serif">5.25209× 10<tspan dy="-1" font-size="2.2">-5</tspan></text>
<text x="293.40" y="208.10" font-size="17" text-anchor="start" font-weight="normal" font-style="normal" fill="#111" font-family="'Liberation Serif', serif" stroke="#111" stroke-width="0.16" >(d)</text>
<line x1="327.70" y1="348.93" x2="329.50" y2="348.93" stroke="#4a4a4a" stroke-width="0.9"/>
<line x1="326.20" y1="340.40" x2="329.50" y2="340.40" stroke="#4a4a4a" stroke-width="0.9"/>
<text x="324.90" y="342.70" font-size="6.8" text-anchor="end" font-weight="bold" font-style="normal" fill="#111" font-family="'Liberation Serif', serif" stroke="#111" stroke-width="0.16" >-20</text>
<line x1="327.70" y1="331.88" x2="329.50" y2="331.88" stroke="#4a4a4a" stroke-width="0.9"/>
<line x1="326.20" y1="323.35" x2="329.50" y2="323.35" stroke="#4a4a4a" stroke-width="0.9"/>
<text x="324.90" y="325.65" font-size="6.8" text-anchor="end" font-weight="bold" font-style="normal" fill="#111" font-family="'Liberation Serif', serif" stroke="#111" stroke-width="0.16" >-15</text>
<line x1="327.70" y1="314.82" x2="329.50" y2="314.82" stroke="#4a4a4a" stroke-width="0.9"/>
<line x1="326.20" y1="306.30" x2="329.50" y2="306.30" stroke="#4a4a4a" stroke-width="0.9"/>
<text x="324.90" y="308.60" font-size="6.8" text-anchor="end" font-weight="bold" font-style="normal" fill="#111" font-family="'Liberation Serif', serif" stroke="#111" stroke-width="0.16" >-10</text>
<line x1="327.70" y1="297.77" x2="329.50" y2="297.77" stroke="#4a4a4a" stroke-width="0.9"/>
<line x1="326.20" y1="289.25" x2="329.50" y2="289.25" stroke="#4a4a4a" stroke-width="0.9"/>
<text x="324.90" y="291.55" font-size="6.8" text-anchor="end" font-weight="bold" font-style="normal" fill="#111" font-family="'Liberation Serif', serif" stroke="#111" stroke-width="0.16" >-5</text>
<line x1="327.70" y1="280.72" x2="329.50" y2="280.72" stroke="#4a4a4a" stroke-width="0.9"/>
<line x1="326.20" y1="272.20" x2="329.50" y2="272.20" stroke="#4a4a4a" stroke-width="0.9"/>
<text x="324.90" y="274.50" font-size="6.8" text-anchor="end" font-weight="bold" font-style="normal" fill="#111" font-family="'Liberation Serif', serif" stroke="#111" stroke-width="0.16" >0</text>
<line x1="327.70" y1="263.68" x2="329.50" y2="263.68" stroke="#4a4a4a" stroke-width="0.9"/>
<line x1="326.20" y1="255.15" x2="329.50" y2="255.15" stroke="#4a4a4a" stroke-width="0.9"/>
<text x="324.90" y="257.45" font-size="6.8" text-anchor="end" font-weight="bold" font-style="normal" fill="#111" font-family="'Liberation Serif', serif" stroke="#111" stroke-width="0.16" >5</text>
<line x1="327.70" y1="246.62" x2="329.50" y2="246.62" stroke="#4a4a4a" stroke-width="0.9"/>
<line x1="326.20" y1="238.10" x2="329.50" y2="238.10" stroke="#4a4a4a" stroke-width="0.9"/>
<text x="324.90" y="240.40" font-size="6.8" text-anchor="end" font-weight="bold" font-style="normal" fill="#111" font-family="'Liberation Serif', serif" stroke="#111" stroke-width="0.16" >10</text>
<line x1="327.70" y1="229.57" x2="329.50" y2="229.57" stroke="#4a4a4a" stroke-width="0.9"/>
<line x1="326.20" y1="221.05" x2="329.50" y2="221.05" stroke="#4a4a4a" stroke-width="0.9"/>
<text x="324.90" y="223.35" font-size="6.8" text-anchor="end" font-weight="bold" font-style="normal" fill="#111" font-family="'Liberation Serif', serif" stroke="#111" stroke-width="0.16" >15</text>
<line x1="327.70" y1="212.52" x2="329.50" y2="212.52" stroke="#4a4a4a" stroke-width="0.9"/>
<line x1="326.20" y1="204.00" x2="329.50" y2="204.00" stroke="#4a4a4a" stroke-width="0.9"/>
<text x="324.90" y="206.30" font-size="6.8" text-anchor="end" font-weight="bold" font-style="normal" fill="#111" font-family="'Liberation Serif', serif" stroke="#111" stroke-width="0.16" >20</text>
<line x1="327.70" y1="195.47" x2="329.50" y2="195.47" stroke="#4a4a4a" stroke-width="0.9"/>
<line x1="329.57" y1="349.00" x2="329.57" y2="352.30" stroke="#4a4a4a" stroke-width="0.9"/>
<text x="329.57" y="359.80" font-size="6.5" text-anchor="middle" font-weight="bold" font-style="normal" fill="#111" font-family="'Liberation Serif', serif" stroke="#111" stroke-width="0.16" >-80,000</text>
<line x1="342.56" y1="349.00" x2="342.56" y2="350.80" stroke="#4a4a4a" stroke-width="0.9"/>
<line x1="355.54" y1="349.00" x2="355.54" y2="352.30" stroke="#4a4a4a" stroke-width="0.9"/>
<text x="355.54" y="359.80" font-size="6.5" text-anchor="middle" font-weight="bold" font-style="normal" fill="#111" font-family="'Liberation Serif', serif" stroke="#111" stroke-width="0.16" >-60,000</text>
<line x1="368.52" y1="349.00" x2="368.52" y2="350.80" stroke="#4a4a4a" stroke-width="0.9"/>
<line x1="381.51" y1="349.00" x2="381.51" y2="352.30" stroke="#4a4a4a" stroke-width="0.9"/>
<text x="381.51" y="359.80" font-size="6.5" text-anchor="middle" font-weight="bold" font-style="normal" fill="#111" font-family="'Liberation Serif', serif" stroke="#111" stroke-width="0.16" >-40,000</text>
<line x1="394.50" y1="349.00" x2="394.50" y2="350.80" stroke="#4a4a4a" stroke-width="0.9"/>
<line x1="407.48" y1="349.00" x2="407.48" y2="352.30" stroke="#4a4a4a" stroke-width="0.9"/>
<text x="407.48" y="359.80" font-size="6.5" text-anchor="middle" font-weight="bold" font-style="normal" fill="#111" font-family="'Liberation Serif', serif" stroke="#111" stroke-width="0.16" >-20,000</text>
<line x1="420.46" y1="349.00" x2="420.46" y2="350.80" stroke="#4a4a4a" stroke-width="0.9"/>
<line x1="433.45" y1="349.00" x2="433.45" y2="352.30" stroke="#4a4a4a" stroke-width="0.9"/>
<text x="433.45" y="359.80" font-size="6.5" text-anchor="middle" font-weight="bold" font-style="normal" fill="#111" font-family="'Liberation Serif', serif" stroke="#111" stroke-width="0.16" >0</text>
<line x1="446.44" y1="349.00" x2="446.44" y2="350.80" stroke="#4a4a4a" stroke-width="0.9"/>
<line x1="459.42" y1="349.00" x2="459.42" y2="352.30" stroke="#4a4a4a" stroke-width="0.9"/>
<text x="459.42" y="359.80" font-size="6.5" text-anchor="middle" font-weight="bold" font-style="normal" fill="#111" font-family="'Liberation Serif', serif" stroke="#111" stroke-width="0.16" >20,000</text>
<line x1="472.40" y1="349.00" x2="472.40" y2="350.80" stroke="#4a4a4a" stroke-width="0.9"/>
<line x1="485.39" y1="349.00" x2="485.39" y2="352.30" stroke="#4a4a4a" stroke-width="0.9"/>
<text x="485.39" y="359.80" font-size="6.5" text-anchor="middle" font-weight="bold" font-style="normal" fill="#111" font-family="'Liberation Serif', serif" stroke="#111" stroke-width="0.16" >40,000</text>
<line x1="498.38" y1="349.00" x2="498.38" y2="350.80" stroke="#4a4a4a" stroke-width="0.9"/>
<line x1="511.36" y1="349.00" x2="511.36" y2="352.30" stroke="#4a4a4a" stroke-width="0.9"/>
<text x="511.36" y="359.80" font-size="6.5" text-anchor="middle" font-weight="bold" font-style="normal" fill="#111" font-family="'Liberation Serif', serif" stroke="#111" stroke-width="0.16" >60,000</text>
<line x1="524.35" y1="349.00" x2="524.35" y2="350.80" stroke="#4a4a4a" stroke-width="0.9"/>
<line x1="537.33" y1="349.00" x2="537.33" y2="352.30" stroke="#4a4a4a" stroke-width="0.9"/>
<text x="537.33" y="359.80" font-size="6.5" text-anchor="middle" font-weight="bold" font-style="normal" fill="#111" font-family="'Liberation Serif', serif" stroke="#111" stroke-width="0.16" >80,000</text>
<rect x="329.5" y="195.4" width="207.90" height="153.60" fill="none" stroke="#4a4a4a" stroke-width="1"/>
<line x1="329.50" y1="272.20" x2="537.40" y2="272.20" stroke="#222" stroke-width="0.8"/>
<line x1="433.45" y1="195.40" x2="433.45" y2="349.00" stroke="#222" stroke-width="0.8"/>
<text x="434.00" y="369.90" font-size="9.0" text-anchor="middle" font-weight="bold" font-style="normal" fill="#111" font-family="'Liberation Serif', serif" stroke="#111" stroke-width="0.16" ><tspan font-style="italic">H</tspan>(Oe)</text>
<text transform="translate(316.6,271.2) rotate(-90)" text-anchor="middle" font-family="'Liberation Serif', serif" font-weight="bold" font-style="italic" font-size="10.4" fill="#111">M(Nβ)</text>
<path d="M329.45,334.34 L331.55,337.94 L327.35,337.94 Z" fill="none" stroke="#5a5a5a" stroke-width="0.55"/>
<path d="M332.33,334.08 L334.43,337.68 L330.23,337.68 Z" fill="none" stroke="#5a5a5a" stroke-width="0.55"/>
<path d="M335.11,333.82 L337.21,337.42 L333.01,337.42 Z" fill="none" stroke="#5a5a5a" stroke-width="0.55"/>
<path d="M337.98,333.56 L340.08,337.16 L335.88,337.16 Z" fill="none" stroke="#5a5a5a" stroke-width="0.55"/>
<path d="M340.70,333.31 L342.80,336.91 L338.60,336.91 Z" fill="none" stroke="#5a5a5a" stroke-width="0.55"/>
<path d="M343.44,333.06 L345.54,336.66 L341.34,336.66 Z" fill="none" stroke="#5a5a5a" stroke-width="0.55"/>
<path d="M346.29,332.79 L348.39,336.39 L344.19,336.39 Z" fill="none" stroke="#5a5a5a" stroke-width="0.55"/>
<path d="M349.17,332.50 L351.27,336.10 L347.07,336.10 Z" fill="none" stroke="#5a5a5a" stroke-width="0.55"/>
<path d="M352.05,332.22 L354.15,335.82 L349.95,335.82 Z" fill="none" stroke="#5a5a5a" stroke-width="0.55"/>
<path d="M354.84,331.97 L356.94,335.57 L352.74,335.57 Z" fill="none" stroke="#5a5a5a" stroke-width="0.55"/>
<path d="M357.72,331.71 L359.82,335.31 L355.62,335.31 Z" fill="none" stroke="#5a5a5a" stroke-width="0.55"/>
<path d="M360.53,331.43 L362.63,335.03 L358.43,335.03 Z" fill="none" stroke="#5a5a5a" stroke-width="0.55"/>
<path d="M363.35,331.06 L365.45,334.66 L361.25,334.66 Z" fill="none" stroke="#5a5a5a" stroke-width="0.55"/>
<path d="M366.03,330.61 L368.13,334.21 L363.93,334.21 Z" fill="none" stroke="#5a5a5a" stroke-width="0.55"/>
<path d="M368.79,330.06 L370.89,333.66 L366.69,333.66 Z" fill="none" stroke="#5a5a5a" stroke-width="0.55"/>
<path d="M371.58,329.40 L373.68,333.00 L369.48,333.00 Z" fill="none" stroke="#5a5a5a" stroke-width="0.55"/>
<path d="M374.39,328.68 L376.49,332.28 L372.29,332.28 Z" fill="none" stroke="#5a5a5a" stroke-width="0.55"/>
<path d="M377.18,327.91 L379.28,331.51 L375.08,331.51 Z" fill="none" stroke="#5a5a5a" stroke-width="0.55"/>
<path d="M379.94,327.10 L382.04,330.70 L377.84,330.70 Z" fill="none" stroke="#5a5a5a" stroke-width="0.55"/>
<path d="M382.60,326.26 L384.70,329.86 L380.50,329.86 Z" fill="none" stroke="#5a5a5a" stroke-width="0.55"/>
<path d="M385.34,325.36 L387.44,328.96 L383.24,328.96 Z" fill="none" stroke="#5a5a5a" stroke-width="0.55"/>
<path d="M388.05,324.39 L390.15,327.99 L385.95,327.99 Z" fill="none" stroke="#5a5a5a" stroke-width="0.55"/>
<path d="M390.69,323.38 L392.79,326.98 L388.59,326.98 Z" fill="none" stroke="#5a5a5a" stroke-width="0.55"/>
<path d="M393.20,322.35 L395.30,325.95 L391.10,325.95 Z" fill="none" stroke="#5a5a5a" stroke-width="0.55"/>
<path d="M395.70,321.25 L397.80,324.85 L393.60,324.85 Z" fill="none" stroke="#5a5a5a" stroke-width="0.55"/>
<path d="M398.20,320.03 L400.30,323.63 L396.10,323.63 Z" fill="none" stroke="#5a5a5a" stroke-width="0.55"/>
<path d="M400.65,318.66 L402.75,322.26 L398.55,322.26 Z" fill="none" stroke="#5a5a5a" stroke-width="0.55"/>
<path d="M403.03,317.12 L405.13,320.72 L400.93,320.72 Z" fill="none" stroke="#5a5a5a" stroke-width="0.55"/>
<path d="M405.34,315.48 L407.44,319.08 L403.24,319.08 Z" fill="none" stroke="#5a5a5a" stroke-width="0.55"/>
<path d="M407.58,313.85 L409.68,317.45 L405.48,317.45 Z" fill="none" stroke="#5a5a5a" stroke-width="0.55"/>
<path d="M409.87,312.18 L411.97,315.78 L407.77,315.78 Z" fill="none" stroke="#5a5a5a" stroke-width="0.55"/>
<path d="M412.05,310.43 L414.15,314.03 L409.95,314.03 Z" fill="none" stroke="#5a5a5a" stroke-width="0.55"/>
<path d="M414.02,308.54 L416.12,312.14 L411.92,312.14 Z" fill="none" stroke="#5a5a5a" stroke-width="0.55"/>
<path d="M415.54,306.75 L417.64,310.35 L413.44,310.35 Z" fill="none" stroke="#5a5a5a" stroke-width="0.55"/>
<path d="M416.85,304.96 L418.95,308.56 L414.75,308.56 Z" fill="none" stroke="#5a5a5a" stroke-width="0.55"/>
<path d="M418.12,303.07 L420.22,306.67 L416.02,306.67 Z" fill="none" stroke="#5a5a5a" stroke-width="0.55"/>
<path d="M419.35,301.11 L421.45,304.71 L417.25,304.71 Z" fill="none" stroke="#5a5a5a" stroke-width="0.55"/>
<path d="M420.56,299.17 L422.66,302.77 L418.46,302.77 Z" fill="none" stroke="#5a5a5a" stroke-width="0.55"/>
<path d="M421.51,297.60 L423.61,301.20 L419.41,301.20 Z" fill="none" stroke="#5a5a5a" stroke-width="0.55"/>
<path d="M422.36,296.17 L424.46,299.77 L420.26,299.77 Z" fill="none" stroke="#5a5a5a" stroke-width="0.55"/>
<path d="M423.20,294.71 L425.30,298.31 L421.10,298.31 Z" fill="none" stroke="#5a5a5a" stroke-width="0.55"/>
<path d="M424.02,293.25 L426.12,296.85 L421.92,296.85 Z" fill="none" stroke="#5a5a5a" stroke-width="0.55"/>
<path d="M424.79,291.81 L426.89,295.41 L422.69,295.41 Z" fill="none" stroke="#5a5a5a" stroke-width="0.55"/>
<path d="M425.52,290.41 L427.62,294.01 L423.42,294.01 Z" fill="none" stroke="#5a5a5a" stroke-width="0.55"/>
<path d="M426.20,289.01 L428.30,292.61 L424.10,292.61 Z" fill="none" stroke="#5a5a5a" stroke-width="0.55"/>
<path d="M426.68,287.96 L428.78,291.56 L424.58,291.56 Z" fill="none" stroke="#5a5a5a" stroke-width="0.55"/>
<path d="M427.09,286.98 L429.19,290.58 L424.99,290.58 Z" fill="none" stroke="#5a5a5a" stroke-width="0.55"/>
<path d="M427.50,285.94 L429.60,289.54 L425.40,289.54 Z" fill="none" stroke="#5a5a5a" stroke-width="0.55"/>
<path d="M427.89,284.91 L429.99,288.51 L425.79,288.51 Z" fill="none" stroke="#5a5a5a" stroke-width="0.55"/>
<path d="M428.24,283.94 L430.34,287.54 L426.14,287.54 Z" fill="none" stroke="#5a5a5a" stroke-width="0.55"/>
<path d="M428.61,282.92 L430.71,286.52 L426.51,286.52 Z" fill="none" stroke="#5a5a5a" stroke-width="0.55"/>
<path d="M428.98,281.92 L431.08,285.52 L426.88,285.52 Z" fill="none" stroke="#5a5a5a" stroke-width="0.55"/>
<path d="M429.36,280.91 L431.46,284.51 L427.26,284.51 Z" fill="none" stroke="#5a5a5a" stroke-width="0.55"/>
<path d="M429.75,279.86 L431.85,283.46 L427.65,283.46 Z" fill="none" stroke="#5a5a5a" stroke-width="0.55"/>
<path d="M430.12,278.87 L432.22,282.47 L428.02,282.47 Z" fill="none" stroke="#5a5a5a" stroke-width="0.55"/>
<path d="M430.50,277.84 L432.60,281.44 L428.40,281.44 Z" fill="none" stroke="#5a5a5a" stroke-width="0.55"/>
<path d="M430.88,276.79 L432.98,280.39 L428.78,280.39 Z" fill="none" stroke="#5a5a5a" stroke-width="0.55"/>
<path d="M431.27,275.71 L433.37,279.31 L429.17,279.31 Z" fill="none" stroke="#5a5a5a" stroke-width="0.55"/>
<path d="M431.61,274.78 L433.71,278.38 L429.51,278.38 Z" fill="none" stroke="#5a5a5a" stroke-width="0.55"/>
<path d="M431.90,274.00 L434.00,277.60 L429.80,277.60 Z" fill="none" stroke="#222" stroke-width="0.55"/>
<path d="M432.06,273.58 L434.16,277.18 L429.96,277.18 Z" fill="none" stroke="#222" stroke-width="0.55"/>
<path d="M432.22,273.16 L434.32,276.76 L430.12,276.76 Z" fill="none" stroke="#222" stroke-width="0.55"/>
<path d="M432.37,272.74 L434.47,276.34 L430.27,276.34 Z" fill="none" stroke="#222" stroke-width="0.55"/>
<path d="M432.53,272.34 L434.63,275.94 L430.43,275.94 Z" fill="none" stroke="#222" stroke-width="0.55"/>
<path d="M432.69,271.94 L434.79,275.54 L430.59,275.54 Z" fill="none" stroke="#222" stroke-width="0.55"/>
<path d="M432.84,271.54 L434.94,275.14 L430.74,275.14 Z" fill="none" stroke="#222" stroke-width="0.55"/>
<path d="M432.99,271.15 L435.09,274.75 L430.89,274.75 Z" fill="none" stroke="#222" stroke-width="0.55"/>
<path d="M433.15,270.78 L435.25,274.38 L431.05,274.38 Z" fill="none" stroke="#222" stroke-width="0.55"/>
<path d="M433.30,270.41 L435.40,274.01 L431.20,274.01 Z" fill="none" stroke="#222" stroke-width="0.55"/>
<path d="M433.45,270.04 L435.55,273.64 L431.35,273.64 Z" fill="none" stroke="#222" stroke-width="0.55"/>
<path d="M433.62,269.65 L435.72,273.25 L431.52,273.25 Z" fill="none" stroke="#222" stroke-width="0.55"/>
<path d="M433.80,269.25 L435.90,272.85 L431.70,272.85 Z" fill="none" stroke="#222" stroke-width="0.55"/>
<path d="M433.97,268.86 L436.07,272.46 L431.87,272.46 Z" fill="none" stroke="#222" stroke-width="0.55"/>
<path d="M434.17,268.43 L436.27,272.03 L432.07,272.03 Z" fill="none" stroke="#222" stroke-width="0.55"/>
<path d="M434.38,267.99 L436.48,271.59 L432.28,271.59 Z" fill="none" stroke="#222" stroke-width="0.55"/>
<path d="M434.58,267.57 L436.68,271.17 L432.48,271.17 Z" fill="none" stroke="#222" stroke-width="0.55"/>
<path d="M434.79,267.17 L436.89,270.77 L432.69,270.77 Z" fill="none" stroke="#222" stroke-width="0.55"/>
<path d="M434.99,266.76 L437.09,270.36 L432.89,270.36 Z" fill="none" stroke="#222" stroke-width="0.55"/>
<path d="M435.50,265.77 L437.60,269.37 L433.40,269.37 Z" fill="none" stroke="#5a5a5a" stroke-width="0.55"/>
<path d="M436.00,264.79 L438.10,268.39 L433.90,268.39 Z" fill="none" stroke="#5a5a5a" stroke-width="0.55"/>
<path d="M436.51,263.78 L438.61,267.38 L434.41,267.38 Z" fill="none" stroke="#5a5a5a" stroke-width="0.55"/>
<path d="M437.03,262.70 L439.13,266.30 L434.93,266.30 Z" fill="none" stroke="#5a5a5a" stroke-width="0.55"/>
<path d="M437.46,261.73 L439.56,265.33 L435.36,265.33 Z" fill="none" stroke="#5a5a5a" stroke-width="0.55"/>
<path d="M437.90,260.69 L440.00,264.29 L435.80,264.29 Z" fill="none" stroke="#5a5a5a" stroke-width="0.55"/>
<path d="M438.30,259.67 L440.40,263.27 L436.20,263.27 Z" fill="none" stroke="#5a5a5a" stroke-width="0.55"/>
<path d="M438.69,258.68 L440.79,262.28 L436.59,262.28 Z" fill="none" stroke="#5a5a5a" stroke-width="0.55"/>
<path d="M439.07,257.65 L441.17,261.25 L436.97,261.25 Z" fill="none" stroke="#5a5a5a" stroke-width="0.55"/>
<path d="M439.45,256.61 L441.55,260.21 L437.35,260.21 Z" fill="none" stroke="#5a5a5a" stroke-width="0.55"/>
<path d="M439.84,255.56 L441.94,259.16 L437.74,259.16 Z" fill="none" stroke="#5a5a5a" stroke-width="0.55"/>
<path d="M440.22,254.52 L442.32,258.12 L438.12,258.12 Z" fill="none" stroke="#5a5a5a" stroke-width="0.55"/>
<path d="M440.76,253.10 L442.86,256.70 L438.66,256.70 Z" fill="none" stroke="#5a5a5a" stroke-width="0.55"/>
<path d="M441.40,251.56 L443.50,255.16 L439.30,255.16 Z" fill="none" stroke="#5a5a5a" stroke-width="0.55"/>
<path d="M442.03,250.17 L444.13,253.77 L439.93,253.77 Z" fill="none" stroke="#5a5a5a" stroke-width="0.55"/>
<path d="M442.81,248.65 L444.91,252.25 L440.71,252.25 Z" fill="none" stroke="#5a5a5a" stroke-width="0.55"/>
<path d="M443.66,247.18 L445.76,250.78 L441.56,250.78 Z" fill="none" stroke="#5a5a5a" stroke-width="0.55"/>
<path d="M444.52,245.79 L446.62,249.39 L442.42,249.39 Z" fill="none" stroke="#5a5a5a" stroke-width="0.55"/>
<path d="M445.42,244.38 L447.52,247.98 L443.32,247.98 Z" fill="none" stroke="#5a5a5a" stroke-width="0.55"/>
<path d="M446.57,242.52 L448.67,246.12 L444.47,246.12 Z" fill="none" stroke="#5a5a5a" stroke-width="0.55"/>
<path d="M447.66,240.71 L449.76,244.31 L445.56,244.31 Z" fill="none" stroke="#5a5a5a" stroke-width="0.55"/>
<path d="M448.82,238.81 L450.92,242.41 L446.72,242.41 Z" fill="none" stroke="#5a5a5a" stroke-width="0.55"/>
<path d="M450.00,236.92 L452.10,240.52 L447.90,240.52 Z" fill="none" stroke="#5a5a5a" stroke-width="0.55"/>
<path d="M451.17,235.10 L453.27,238.70 L449.07,238.70 Z" fill="none" stroke="#5a5a5a" stroke-width="0.55"/>
<path d="M452.82,232.67 L454.92,236.27 L450.72,236.27 Z" fill="none" stroke="#5a5a5a" stroke-width="0.55"/>
<path d="M454.38,230.44 L456.48,234.04 L452.28,234.04 Z" fill="none" stroke="#5a5a5a" stroke-width="0.55"/>
<path d="M456.14,228.19 L458.24,231.79 L454.04,231.79 Z" fill="none" stroke="#5a5a5a" stroke-width="0.55"/>
<path d="M458.03,226.12 L460.13,229.72 L455.93,229.72 Z" fill="none" stroke="#5a5a5a" stroke-width="0.55"/>
<path d="M460.11,224.15 L462.21,227.75 L458.01,227.75 Z" fill="none" stroke="#5a5a5a" stroke-width="0.55"/>
<path d="M462.33,222.40 L464.43,226.00 L460.23,226.00 Z" fill="none" stroke="#5a5a5a" stroke-width="0.55"/>
<path d="M464.71,220.84 L466.81,224.44 L462.61,224.44 Z" fill="none" stroke="#5a5a5a" stroke-width="0.55"/>
<path d="M467.14,219.42 L469.24,223.02 L465.04,223.02 Z" fill="none" stroke="#5a5a5a" stroke-width="0.55"/>
<path d="M469.65,218.07 L471.75,221.67 L467.55,221.67 Z" fill="none" stroke="#5a5a5a" stroke-width="0.55"/>
<path d="M472.23,216.80 L474.33,220.40 L470.13,220.40 Z" fill="none" stroke="#5a5a5a" stroke-width="0.55"/>
<path d="M474.84,215.67 L476.94,219.27 L472.74,219.27 Z" fill="none" stroke="#5a5a5a" stroke-width="0.55"/>
<path d="M477.57,214.70 L479.67,218.30 L475.47,218.30 Z" fill="none" stroke="#5a5a5a" stroke-width="0.55"/>
<path d="M480.29,213.91 L482.39,217.51 L478.19,217.51 Z" fill="none" stroke="#5a5a5a" stroke-width="0.55"/>
<path d="M483.02,213.20 L485.12,216.80 L480.92,216.80 Z" fill="none" stroke="#5a5a5a" stroke-width="0.55"/>
<path d="M485.74,212.49 L487.84,216.09 L483.64,216.09 Z" fill="none" stroke="#5a5a5a" stroke-width="0.55"/>
<path d="M488.47,211.74 L490.57,215.34 L486.37,215.34 Z" fill="none" stroke="#5a5a5a" stroke-width="0.55"/>
<path d="M491.19,211.00 L493.29,214.60 L489.09,214.60 Z" fill="none" stroke="#5a5a5a" stroke-width="0.55"/>
<path d="M493.95,210.31 L496.05,213.91 L491.85,213.91 Z" fill="none" stroke="#5a5a5a" stroke-width="0.55"/>
<path d="M496.68,209.69 L498.78,213.29 L494.58,213.29 Z" fill="none" stroke="#5a5a5a" stroke-width="0.55"/>
<path d="M499.40,209.17 L501.50,212.77 L497.30,212.77 Z" fill="none" stroke="#5a5a5a" stroke-width="0.55"/>
<path d="M502.12,208.72 L504.22,212.32 L500.02,212.32 Z" fill="none" stroke="#5a5a5a" stroke-width="0.55"/>
<path d="M504.85,208.31 L506.95,211.91 L502.75,211.91 Z" fill="none" stroke="#5a5a5a" stroke-width="0.55"/>
<path d="M507.58,207.91 L509.68,211.51 L505.48,211.51 Z" fill="none" stroke="#5a5a5a" stroke-width="0.55"/>
<path d="M510.32,207.50 L512.42,211.10 L508.22,211.10 Z" fill="none" stroke="#5a5a5a" stroke-width="0.55"/>
<path d="M513.08,207.11 L515.18,210.71 L510.98,210.71 Z" fill="none" stroke="#5a5a5a" stroke-width="0.55"/>
<path d="M515.83,206.74 L517.93,210.34 L513.73,210.34 Z" fill="none" stroke="#5a5a5a" stroke-width="0.55"/>
<path d="M518.58,206.41 L520.68,210.01 L516.48,210.01 Z" fill="none" stroke="#5a5a5a" stroke-width="0.55"/>
<path d="M521.33,206.13 L523.43,209.73 L519.23,209.73 Z" fill="none" stroke="#5a5a5a" stroke-width="0.55"/>
<path d="M524.17,205.86 L526.27,209.46 L522.07,209.46 Z" fill="none" stroke="#5a5a5a" stroke-width="0.55"/>
<path d="M526.90,205.63 L529.00,209.23 L524.80,209.23 Z" fill="none" stroke="#5a5a5a" stroke-width="0.55"/>
<path d="M529.67,205.41 L531.77,209.01 L527.57,209.01 Z" fill="none" stroke="#5a5a5a" stroke-width="0.55"/>
<path d="M532.42,205.20 L534.52,208.80 L530.32,208.80 Z" fill="none" stroke="#5a5a5a" stroke-width="0.55"/>
<path d="M535.19,205.02 L537.29,208.62 L533.09,208.62 Z" fill="none" stroke="#5a5a5a" stroke-width="0.55"/>
<path d="M537.95,204.84 L540.05,208.44 L535.85,208.44 Z" fill="none" stroke="#5a5a5a" stroke-width="0.55"/>
</svg>
</body></html>
